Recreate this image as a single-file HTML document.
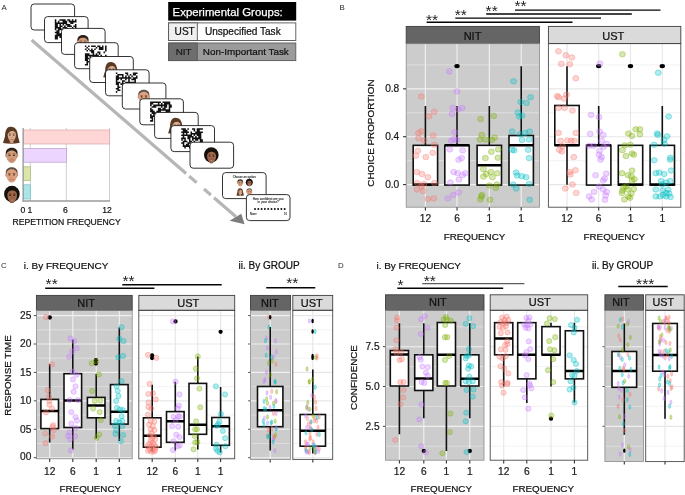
<!DOCTYPE html>
<html lang="en">
<head>
<meta charset="utf-8">
<title>Figure</title>
<style>
html,body{margin:0;padding:0;background:#fff;}
body{width:685px;height:495px;overflow:hidden;font-family:"Liberation Sans", sans-serif;}
svg{display:block;font-family:"Liberation Sans", sans-serif;}
</style>
</head>
<body>
<svg width="685" height="495" viewBox="0 0 685 495">
<rect x="0" y="0" width="685" height="495" fill="#ffffff"/>
<text x="1.4" y="9.6" font-size="7.9" text-anchor="start" fill="#2a2a2a">A</text>
<line x1="31.6" y1="40" x2="186.1" y2="173.57" stroke="#b6b6b6" stroke-width="3.2"/>
<line x1="189.2" y1="176.25" x2="196.6" y2="182.64" stroke="#b6b6b6" stroke-width="3.2"/>
<line x1="204" y1="189.04" x2="210.9" y2="195" stroke="#b6b6b6" stroke-width="3.2"/>
<line x1="214" y1="197.68" x2="236" y2="216.7" stroke="#b6b6b6" stroke-width="3.2"/>
<polygon points="244.6,224.2 229.6,220.7 241.3,213.7" fill="#7d7d7d"/>
<g>
<clipPath id="cc0"><rect x="31" y="4" width="43.6" height="26" rx="3.2"/></clipPath>
<rect x="31" y="4" width="43.6" height="26" fill="#fff" stroke="#1c1c1c" stroke-width="0.9" rx="3.2"/>
<g clip-path="url(#cc0)">
</g>
</g>
<g>
<clipPath id="cc1"><rect x="44.5" y="16.6" width="43.6" height="26" rx="3.2"/></clipPath>
<rect x="44.5" y="16.6" width="43.6" height="26" fill="#fff" stroke="#1c1c1c" stroke-width="0.9" rx="3.2"/>
<g clip-path="url(#cc1)">
<path d="M54.8 19.3h1.55v1.55h-1.55zM59.45 19.3h1.55v1.55h-1.55zM61 19.3h1.55v1.55h-1.55zM62.55 19.3h1.55v1.55h-1.55zM64.1 19.3h1.55v1.55h-1.55zM67.2 19.3h1.55v1.55h-1.55zM68.75 19.3h1.55v1.55h-1.55zM71.85 19.3h1.55v1.55h-1.55zM74.95 19.3h1.55v1.55h-1.55zM54.8 20.85h1.55v1.55h-1.55zM57.9 20.85h1.55v1.55h-1.55zM62.55 20.85h1.55v1.55h-1.55zM64.1 20.85h1.55v1.55h-1.55zM65.65 20.85h1.55v1.55h-1.55zM68.75 20.85h1.55v1.55h-1.55zM70.3 20.85h1.55v1.55h-1.55zM71.85 20.85h1.55v1.55h-1.55zM73.4 20.85h1.55v1.55h-1.55zM74.95 20.85h1.55v1.55h-1.55zM54.8 22.4h1.55v1.55h-1.55zM56.35 22.4h1.55v1.55h-1.55zM57.9 22.4h1.55v1.55h-1.55zM59.45 22.4h1.55v1.55h-1.55zM61 22.4h1.55v1.55h-1.55zM62.55 22.4h1.55v1.55h-1.55zM64.1 22.4h1.55v1.55h-1.55zM65.65 22.4h1.55v1.55h-1.55zM70.3 22.4h1.55v1.55h-1.55zM71.85 22.4h1.55v1.55h-1.55zM54.8 23.95h1.55v1.55h-1.55zM56.35 23.95h1.55v1.55h-1.55zM59.45 23.95h1.55v1.55h-1.55zM62.55 23.95h1.55v1.55h-1.55zM65.65 23.95h1.55v1.55h-1.55zM67.2 23.95h1.55v1.55h-1.55zM68.75 23.95h1.55v1.55h-1.55zM74.95 23.95h1.55v1.55h-1.55zM54.8 25.5h1.55v1.55h-1.55zM56.35 25.5h1.55v1.55h-1.55zM59.45 25.5h1.55v1.55h-1.55zM61 25.5h1.55v1.55h-1.55zM64.1 25.5h1.55v1.55h-1.55zM67.2 25.5h1.55v1.55h-1.55zM68.75 25.5h1.55v1.55h-1.55zM70.3 25.5h1.55v1.55h-1.55zM73.4 25.5h1.55v1.55h-1.55zM74.95 25.5h1.55v1.55h-1.55zM54.8 27.05h1.55v1.55h-1.55zM56.35 27.05h1.55v1.55h-1.55zM57.9 27.05h1.55v1.55h-1.55zM59.45 27.05h1.55v1.55h-1.55zM62.55 27.05h1.55v1.55h-1.55zM64.1 27.05h1.55v1.55h-1.55zM65.65 27.05h1.55v1.55h-1.55zM71.85 27.05h1.55v1.55h-1.55zM74.95 27.05h1.55v1.55h-1.55zM54.8 28.6h1.55v1.55h-1.55zM57.9 28.6h1.55v1.55h-1.55zM59.45 28.6h1.55v1.55h-1.55zM61 28.6h1.55v1.55h-1.55zM65.65 28.6h1.55v1.55h-1.55zM56.35 30.15h1.55v1.55h-1.55zM57.9 30.15h1.55v1.55h-1.55zM62.55 30.15h1.55v1.55h-1.55zM65.65 30.15h1.55v1.55h-1.55zM67.2 30.15h1.55v1.55h-1.55zM68.75 30.15h1.55v1.55h-1.55zM71.85 30.15h1.55v1.55h-1.55zM74.95 30.15h1.55v1.55h-1.55zM54.8 31.7h1.55v1.55h-1.55zM56.35 31.7h1.55v1.55h-1.55zM57.9 31.7h1.55v1.55h-1.55zM67.2 31.7h1.55v1.55h-1.55zM70.3 31.7h1.55v1.55h-1.55zM71.85 31.7h1.55v1.55h-1.55zM73.4 31.7h1.55v1.55h-1.55zM74.95 31.7h1.55v1.55h-1.55zM56.35 33.25h1.55v1.55h-1.55zM57.9 33.25h1.55v1.55h-1.55zM59.45 33.25h1.55v1.55h-1.55zM61 33.25h1.55v1.55h-1.55zM62.55 33.25h1.55v1.55h-1.55zM64.1 33.25h1.55v1.55h-1.55zM65.65 33.25h1.55v1.55h-1.55zM67.2 33.25h1.55v1.55h-1.55zM68.75 33.25h1.55v1.55h-1.55zM71.85 33.25h1.55v1.55h-1.55zM73.4 33.25h1.55v1.55h-1.55zM74.95 33.25h1.55v1.55h-1.55zM54.8 34.8h1.55v1.55h-1.55zM56.35 34.8h1.55v1.55h-1.55zM57.9 34.8h1.55v1.55h-1.55zM59.45 34.8h1.55v1.55h-1.55zM61 34.8h1.55v1.55h-1.55zM64.1 34.8h1.55v1.55h-1.55zM65.65 34.8h1.55v1.55h-1.55zM67.2 34.8h1.55v1.55h-1.55zM70.3 34.8h1.55v1.55h-1.55zM71.85 34.8h1.55v1.55h-1.55zM73.4 34.8h1.55v1.55h-1.55zM54.8 36.35h1.55v1.55h-1.55zM56.35 36.35h1.55v1.55h-1.55zM59.45 36.35h1.55v1.55h-1.55zM61 36.35h1.55v1.55h-1.55zM65.65 36.35h1.55v1.55h-1.55zM67.2 36.35h1.55v1.55h-1.55zM68.75 36.35h1.55v1.55h-1.55zM70.3 36.35h1.55v1.55h-1.55zM71.85 36.35h1.55v1.55h-1.55zM73.4 36.35h1.55v1.55h-1.55zM74.95 36.35h1.55v1.55h-1.55zM54.8 37.9h1.55v1.55h-1.55zM56.35 37.9h1.55v1.55h-1.55zM61 37.9h1.55v1.55h-1.55zM64.1 37.9h1.55v1.55h-1.55zM68.75 37.9h1.55v1.55h-1.55zM70.3 37.9h1.55v1.55h-1.55zM71.85 37.9h1.55v1.55h-1.55zM74.95 37.9h1.55v1.55h-1.55z" fill="#111"/>
</g>
</g>
<g>
<clipPath id="cc2"><rect x="61.5" y="28.4" width="43.6" height="26" rx="3.2"/></clipPath>
<rect x="61.5" y="28.4" width="43.6" height="26" fill="#fff" stroke="#1c1c1c" stroke-width="0.9" rx="3.2"/>
<g clip-path="url(#cc2)">
<path d="M77.39 39.8 C77.39 33.47 88.61 33.47 88.61 39.8 C88.61 44.72 86.08 47.88 83 47.88 C79.92 47.88 77.39 44.72 77.39 39.8Z" fill="#2b221d"/>
<ellipse cx="77.68" cy="42.37" rx="0.85" ry="1.52" fill="#c48d6b"/>
<ellipse cx="88.32" cy="42.37" rx="0.85" ry="1.52" fill="#c48d6b"/>
<path d="M78.06 42.16 C78.06 36.35 87.94 36.35 87.94 42.16 C87.94 46.68 85.72 49.59 83 49.59 C80.28 49.59 78.06 46.68 78.06 42.16Z" fill="#d39d7a"/>
<ellipse cx="80.85" cy="42.3" rx="0.97" ry="0.56" fill="#2a1c14"/>
<path d="M79.61 41.07 q1.23 -0.46 2.46 0" stroke="#3a2a20" stroke-width="0.46" fill="none"/>
<ellipse cx="85.15" cy="42.3" rx="0.97" ry="0.56" fill="#2a1c14"/>
<path d="M83.92 41.07 q1.23 -0.46 2.46 0" stroke="#3a2a20" stroke-width="0.46" fill="none"/>
<path d="M82.08 44.76 q0.92 0.72 1.85 0" stroke="#b07a59" stroke-width="0.62" fill="none"/>
<path d="M80.95 46.61 q2.05 0.51 4.1 0 q-2.05 2.67 -4.1 0z" fill="#f6f1ec" stroke="#8c4a3f" stroke-width="0.46"/>
</g>
</g>
<g>
<clipPath id="cc3"><rect x="74.6" y="42.7" width="43.6" height="26" rx="3.2"/></clipPath>
<rect x="74.6" y="42.7" width="43.6" height="26" fill="#fff" stroke="#1c1c1c" stroke-width="0.9" rx="3.2"/>
<g clip-path="url(#cc3)">
<path d="M84.9 45.4h1.55v1.55h-1.55zM88 45.4h1.55v1.55h-1.55zM91.1 45.4h1.55v1.55h-1.55zM92.65 45.4h1.55v1.55h-1.55zM94.2 45.4h1.55v1.55h-1.55zM97.3 45.4h1.55v1.55h-1.55zM98.85 45.4h1.55v1.55h-1.55zM101.95 45.4h1.55v1.55h-1.55zM105.05 45.4h1.55v1.55h-1.55zM86.45 46.95h1.55v1.55h-1.55zM95.75 46.95h1.55v1.55h-1.55zM98.85 46.95h1.55v1.55h-1.55zM100.4 46.95h1.55v1.55h-1.55zM101.95 46.95h1.55v1.55h-1.55zM105.05 46.95h1.55v1.55h-1.55zM84.9 48.5h1.55v1.55h-1.55zM88 48.5h1.55v1.55h-1.55zM91.1 48.5h1.55v1.55h-1.55zM94.2 48.5h1.55v1.55h-1.55zM98.85 48.5h1.55v1.55h-1.55zM100.4 48.5h1.55v1.55h-1.55zM101.95 48.5h1.55v1.55h-1.55zM105.05 48.5h1.55v1.55h-1.55zM86.45 50.05h1.55v1.55h-1.55zM89.55 50.05h1.55v1.55h-1.55zM91.1 50.05h1.55v1.55h-1.55zM92.65 50.05h1.55v1.55h-1.55zM105.05 50.05h1.55v1.55h-1.55zM91.1 51.6h1.55v1.55h-1.55zM92.65 51.6h1.55v1.55h-1.55zM97.3 51.6h1.55v1.55h-1.55zM98.85 51.6h1.55v1.55h-1.55zM103.5 51.6h1.55v1.55h-1.55zM84.9 53.15h1.55v1.55h-1.55zM86.45 53.15h1.55v1.55h-1.55zM88 53.15h1.55v1.55h-1.55zM92.65 53.15h1.55v1.55h-1.55zM95.75 53.15h1.55v1.55h-1.55zM98.85 53.15h1.55v1.55h-1.55zM84.9 54.7h1.55v1.55h-1.55zM86.45 54.7h1.55v1.55h-1.55zM88 54.7h1.55v1.55h-1.55zM89.55 54.7h1.55v1.55h-1.55zM91.1 54.7h1.55v1.55h-1.55zM92.65 54.7h1.55v1.55h-1.55zM94.2 54.7h1.55v1.55h-1.55zM95.75 54.7h1.55v1.55h-1.55zM97.3 54.7h1.55v1.55h-1.55zM100.4 54.7h1.55v1.55h-1.55zM105.05 54.7h1.55v1.55h-1.55zM84.9 56.25h1.55v1.55h-1.55zM86.45 56.25h1.55v1.55h-1.55zM89.55 56.25h1.55v1.55h-1.55zM92.65 56.25h1.55v1.55h-1.55zM95.75 56.25h1.55v1.55h-1.55zM97.3 56.25h1.55v1.55h-1.55zM100.4 56.25h1.55v1.55h-1.55zM101.95 56.25h1.55v1.55h-1.55zM105.05 56.25h1.55v1.55h-1.55zM84.9 57.8h1.55v1.55h-1.55zM86.45 57.8h1.55v1.55h-1.55zM88 57.8h1.55v1.55h-1.55zM91.1 57.8h1.55v1.55h-1.55zM94.2 57.8h1.55v1.55h-1.55zM95.75 57.8h1.55v1.55h-1.55zM97.3 57.8h1.55v1.55h-1.55zM98.85 57.8h1.55v1.55h-1.55zM100.4 57.8h1.55v1.55h-1.55zM101.95 57.8h1.55v1.55h-1.55zM103.5 57.8h1.55v1.55h-1.55zM84.9 59.35h1.55v1.55h-1.55zM86.45 59.35h1.55v1.55h-1.55zM91.1 59.35h1.55v1.55h-1.55zM92.65 59.35h1.55v1.55h-1.55zM95.75 59.35h1.55v1.55h-1.55zM97.3 59.35h1.55v1.55h-1.55zM98.85 59.35h1.55v1.55h-1.55zM100.4 59.35h1.55v1.55h-1.55zM101.95 59.35h1.55v1.55h-1.55zM103.5 59.35h1.55v1.55h-1.55zM105.05 59.35h1.55v1.55h-1.55zM86.45 60.9h1.55v1.55h-1.55zM88 60.9h1.55v1.55h-1.55zM91.1 60.9h1.55v1.55h-1.55zM92.65 60.9h1.55v1.55h-1.55zM95.75 60.9h1.55v1.55h-1.55zM97.3 60.9h1.55v1.55h-1.55zM98.85 60.9h1.55v1.55h-1.55zM100.4 60.9h1.55v1.55h-1.55zM101.95 60.9h1.55v1.55h-1.55zM103.5 60.9h1.55v1.55h-1.55zM105.05 60.9h1.55v1.55h-1.55zM86.45 62.45h1.55v1.55h-1.55zM89.55 62.45h1.55v1.55h-1.55zM91.1 62.45h1.55v1.55h-1.55zM92.65 62.45h1.55v1.55h-1.55zM95.75 62.45h1.55v1.55h-1.55zM97.3 62.45h1.55v1.55h-1.55zM98.85 62.45h1.55v1.55h-1.55zM101.95 62.45h1.55v1.55h-1.55zM84.9 64h1.55v1.55h-1.55zM86.45 64h1.55v1.55h-1.55zM92.65 64h1.55v1.55h-1.55zM94.2 64h1.55v1.55h-1.55zM95.75 64h1.55v1.55h-1.55zM98.85 64h1.55v1.55h-1.55zM100.4 64h1.55v1.55h-1.55zM101.95 64h1.55v1.55h-1.55zM103.5 64h1.55v1.55h-1.55zM105.05 64h1.55v1.55h-1.55z" fill="#111"/>
</g>
</g>
<g>
<clipPath id="cc4"><rect x="89.7" y="56.5" width="43.6" height="26" rx="3.2"/></clipPath>
<rect x="89.7" y="56.5" width="43.6" height="26" fill="#fff" stroke="#1c1c1c" stroke-width="0.9" rx="3.2"/>
<g clip-path="url(#cc4)">
<path d="M110.25 61.92 C115.48 61.73 117.09 66.1 117.47 70.85 L119.09 77.12 Q111.2 78.83 103.22 77.31 L105.12 70.85 C105.31 66.1 106.45 62.11 110.25 61.92Z" fill="#5b3a24"/>
<rect x="109.68" y="74.18" width="3.42" height="3.42" fill="#c99572"/>
<path d="M107.69 69.23 C107.69 64.11 115.47 64.11 115.47 69.23 C115.47 73.23 113.72 75.79 111.58 75.79 C109.44 75.79 107.69 73.23 107.69 69.23Z" fill="#dcae8d"/>
<path d="M107.5 69.43 C107.21 63.73 113.1 63.06 115.57 67.62 C113.1 65.15 109.3 64.96 107.5 69.43Z" fill="#5b3a24"/>
<ellipse cx="109.74" cy="69.68" rx="0.83" ry="0.48" fill="#2a1c14"/>
<path d="M108.7 68.63 q1.05 -0.39 2.1 0" stroke="#3a2a20" stroke-width="0.39" fill="none"/>
<ellipse cx="113.42" cy="69.68" rx="0.83" ry="0.48" fill="#2a1c14"/>
<path d="M112.37 68.63 q1.05 -0.39 2.1 0" stroke="#3a2a20" stroke-width="0.39" fill="none"/>
<path d="M110.79 71.78 q0.79 0.61 1.57 0" stroke="#bd8a69" stroke-width="0.52" fill="none"/>
<path d="M110.09 73.79 q1.49 0.79 2.97 0" stroke="#a8524d" stroke-width="0.7" fill="none"/>
</g>
</g>
<g>
<clipPath id="cc5"><rect x="105.5" y="69.8" width="43.6" height="26" rx="3.2"/></clipPath>
<rect x="105.5" y="69.8" width="43.6" height="26" fill="#fff" stroke="#1c1c1c" stroke-width="0.9" rx="3.2"/>
<g clip-path="url(#cc5)">
<path d="M115.8 72.5h1.55v1.55h-1.55zM125.1 72.5h1.55v1.55h-1.55zM126.65 72.5h1.55v1.55h-1.55zM132.85 72.5h1.55v1.55h-1.55zM134.4 72.5h1.55v1.55h-1.55zM135.95 72.5h1.55v1.55h-1.55zM117.35 74.05h1.55v1.55h-1.55zM118.9 74.05h1.55v1.55h-1.55zM120.45 74.05h1.55v1.55h-1.55zM122 74.05h1.55v1.55h-1.55zM126.65 74.05h1.55v1.55h-1.55zM129.75 74.05h1.55v1.55h-1.55zM132.85 74.05h1.55v1.55h-1.55zM134.4 74.05h1.55v1.55h-1.55zM115.8 75.6h1.55v1.55h-1.55zM117.35 75.6h1.55v1.55h-1.55zM122 75.6h1.55v1.55h-1.55zM125.1 75.6h1.55v1.55h-1.55zM128.2 75.6h1.55v1.55h-1.55zM131.3 75.6h1.55v1.55h-1.55zM135.95 75.6h1.55v1.55h-1.55zM115.8 77.15h1.55v1.55h-1.55zM117.35 77.15h1.55v1.55h-1.55zM118.9 77.15h1.55v1.55h-1.55zM120.45 77.15h1.55v1.55h-1.55zM122 77.15h1.55v1.55h-1.55zM123.55 77.15h1.55v1.55h-1.55zM125.1 77.15h1.55v1.55h-1.55zM126.65 77.15h1.55v1.55h-1.55zM128.2 77.15h1.55v1.55h-1.55zM129.75 77.15h1.55v1.55h-1.55zM132.85 77.15h1.55v1.55h-1.55zM134.4 77.15h1.55v1.55h-1.55zM135.95 77.15h1.55v1.55h-1.55zM115.8 78.7h1.55v1.55h-1.55zM117.35 78.7h1.55v1.55h-1.55zM120.45 78.7h1.55v1.55h-1.55zM125.1 78.7h1.55v1.55h-1.55zM128.2 78.7h1.55v1.55h-1.55zM131.3 78.7h1.55v1.55h-1.55zM132.85 78.7h1.55v1.55h-1.55zM134.4 78.7h1.55v1.55h-1.55zM115.8 80.25h1.55v1.55h-1.55zM122 80.25h1.55v1.55h-1.55zM123.55 80.25h1.55v1.55h-1.55zM128.2 80.25h1.55v1.55h-1.55zM134.4 80.25h1.55v1.55h-1.55zM115.8 81.8h1.55v1.55h-1.55zM117.35 81.8h1.55v1.55h-1.55zM118.9 81.8h1.55v1.55h-1.55zM122 81.8h1.55v1.55h-1.55zM125.1 81.8h1.55v1.55h-1.55zM126.65 81.8h1.55v1.55h-1.55zM128.2 81.8h1.55v1.55h-1.55zM129.75 81.8h1.55v1.55h-1.55zM131.3 81.8h1.55v1.55h-1.55zM132.85 81.8h1.55v1.55h-1.55zM134.4 81.8h1.55v1.55h-1.55zM115.8 83.35h1.55v1.55h-1.55zM117.35 83.35h1.55v1.55h-1.55zM120.45 83.35h1.55v1.55h-1.55zM122 83.35h1.55v1.55h-1.55zM123.55 83.35h1.55v1.55h-1.55zM128.2 83.35h1.55v1.55h-1.55zM129.75 83.35h1.55v1.55h-1.55zM131.3 83.35h1.55v1.55h-1.55zM134.4 83.35h1.55v1.55h-1.55zM135.95 83.35h1.55v1.55h-1.55zM117.35 84.9h1.55v1.55h-1.55zM122 84.9h1.55v1.55h-1.55zM125.1 84.9h1.55v1.55h-1.55zM126.65 84.9h1.55v1.55h-1.55zM128.2 84.9h1.55v1.55h-1.55zM131.3 84.9h1.55v1.55h-1.55zM132.85 84.9h1.55v1.55h-1.55zM117.35 86.45h1.55v1.55h-1.55zM118.9 86.45h1.55v1.55h-1.55zM122 86.45h1.55v1.55h-1.55zM123.55 86.45h1.55v1.55h-1.55zM125.1 86.45h1.55v1.55h-1.55zM126.65 86.45h1.55v1.55h-1.55zM128.2 86.45h1.55v1.55h-1.55zM132.85 86.45h1.55v1.55h-1.55zM134.4 86.45h1.55v1.55h-1.55zM135.95 86.45h1.55v1.55h-1.55zM115.8 88h1.55v1.55h-1.55zM117.35 88h1.55v1.55h-1.55zM122 88h1.55v1.55h-1.55zM128.2 88h1.55v1.55h-1.55zM131.3 88h1.55v1.55h-1.55zM134.4 88h1.55v1.55h-1.55zM135.95 88h1.55v1.55h-1.55zM117.35 89.55h1.55v1.55h-1.55zM118.9 89.55h1.55v1.55h-1.55zM123.55 89.55h1.55v1.55h-1.55zM125.1 89.55h1.55v1.55h-1.55zM126.65 89.55h1.55v1.55h-1.55zM128.2 89.55h1.55v1.55h-1.55zM129.75 89.55h1.55v1.55h-1.55zM131.3 89.55h1.55v1.55h-1.55zM115.8 91.1h1.55v1.55h-1.55zM122 91.1h1.55v1.55h-1.55zM131.3 91.1h1.55v1.55h-1.55zM134.4 91.1h1.55v1.55h-1.55z" fill="#111"/>
</g>
</g>
<g>
<clipPath id="cc6"><rect x="122.3" y="83" width="43.6" height="26" rx="3.2"/></clipPath>
<rect x="122.3" y="83" width="43.6" height="26" fill="#fff" stroke="#1c1c1c" stroke-width="0.9" rx="3.2"/>
<g clip-path="url(#cc6)">
<path d="M138.19 94.4 C138.19 88.07 149.4 88.07 149.4 94.4 C149.4 99.32 146.88 102.48 143.8 102.48 C140.72 102.48 138.19 99.32 138.19 94.4Z" fill="#5d5149"/>
<ellipse cx="138.48" cy="96.97" rx="0.85" ry="1.52" fill="#cf9270"/>
<ellipse cx="149.12" cy="96.97" rx="0.85" ry="1.52" fill="#cf9270"/>
<path d="M138.76 96.32 C138.76 90.17 148.83 90.17 148.83 96.32 C148.83 101.11 146.57 104.19 143.8 104.19 C141.03 104.19 138.76 101.11 138.76 96.32Z" fill="#dea07d"/>
<ellipse cx="141.65" cy="96.9" rx="0.97" ry="0.56" fill="#2a1c14"/>
<path d="M140.41 95.67 q1.23 -0.46 2.46 0" stroke="#3a2a20" stroke-width="0.46" fill="none"/>
<ellipse cx="145.95" cy="96.9" rx="0.97" ry="0.56" fill="#2a1c14"/>
<path d="M144.72 95.67 q1.23 -0.46 2.46 0" stroke="#3a2a20" stroke-width="0.46" fill="none"/>
<path d="M142.88 99.36 q0.92 0.72 1.85 0" stroke="#bb7e5c" stroke-width="0.62" fill="none"/>
<path d="M141.75 101.21 q2.05 0.51 4.1 0 q-2.05 2.67 -4.1 0z" fill="#f6f1ec" stroke="#94503f" stroke-width="0.46"/>
</g>
</g>
<g>
<clipPath id="cc7"><rect x="139.8" y="98.8" width="43.6" height="26" rx="3.2"/></clipPath>
<rect x="139.8" y="98.8" width="43.6" height="26" fill="#fff" stroke="#1c1c1c" stroke-width="0.9" rx="3.2"/>
<g clip-path="url(#cc7)">
<path d="M150.1 101.5h1.55v1.55h-1.55zM151.65 101.5h1.55v1.55h-1.55zM153.2 101.5h1.55v1.55h-1.55zM154.75 101.5h1.55v1.55h-1.55zM156.3 101.5h1.55v1.55h-1.55zM157.85 101.5h1.55v1.55h-1.55zM159.4 101.5h1.55v1.55h-1.55zM162.5 101.5h1.55v1.55h-1.55zM164.05 101.5h1.55v1.55h-1.55zM165.6 101.5h1.55v1.55h-1.55zM167.15 101.5h1.55v1.55h-1.55zM168.7 101.5h1.55v1.55h-1.55zM150.1 103.05h1.55v1.55h-1.55zM151.65 103.05h1.55v1.55h-1.55zM157.85 103.05h1.55v1.55h-1.55zM160.95 103.05h1.55v1.55h-1.55zM164.05 103.05h1.55v1.55h-1.55zM165.6 103.05h1.55v1.55h-1.55zM167.15 103.05h1.55v1.55h-1.55zM168.7 103.05h1.55v1.55h-1.55zM150.1 104.6h1.55v1.55h-1.55zM153.2 104.6h1.55v1.55h-1.55zM154.75 104.6h1.55v1.55h-1.55zM156.3 104.6h1.55v1.55h-1.55zM157.85 104.6h1.55v1.55h-1.55zM159.4 104.6h1.55v1.55h-1.55zM160.95 104.6h1.55v1.55h-1.55zM162.5 104.6h1.55v1.55h-1.55zM164.05 104.6h1.55v1.55h-1.55zM165.6 104.6h1.55v1.55h-1.55zM168.7 104.6h1.55v1.55h-1.55zM170.25 104.6h1.55v1.55h-1.55zM151.65 106.15h1.55v1.55h-1.55zM153.2 106.15h1.55v1.55h-1.55zM154.75 106.15h1.55v1.55h-1.55zM160.95 106.15h1.55v1.55h-1.55zM164.05 106.15h1.55v1.55h-1.55zM165.6 106.15h1.55v1.55h-1.55zM168.7 106.15h1.55v1.55h-1.55zM170.25 106.15h1.55v1.55h-1.55zM150.1 107.7h1.55v1.55h-1.55zM157.85 107.7h1.55v1.55h-1.55zM159.4 107.7h1.55v1.55h-1.55zM162.5 107.7h1.55v1.55h-1.55zM164.05 107.7h1.55v1.55h-1.55zM168.7 107.7h1.55v1.55h-1.55zM150.1 109.25h1.55v1.55h-1.55zM151.65 109.25h1.55v1.55h-1.55zM157.85 109.25h1.55v1.55h-1.55zM159.4 109.25h1.55v1.55h-1.55zM160.95 109.25h1.55v1.55h-1.55zM162.5 109.25h1.55v1.55h-1.55zM164.05 109.25h1.55v1.55h-1.55zM165.6 109.25h1.55v1.55h-1.55zM167.15 109.25h1.55v1.55h-1.55zM168.7 109.25h1.55v1.55h-1.55zM150.1 110.8h1.55v1.55h-1.55zM151.65 110.8h1.55v1.55h-1.55zM153.2 110.8h1.55v1.55h-1.55zM156.3 110.8h1.55v1.55h-1.55zM157.85 110.8h1.55v1.55h-1.55zM159.4 110.8h1.55v1.55h-1.55zM165.6 110.8h1.55v1.55h-1.55zM167.15 110.8h1.55v1.55h-1.55zM168.7 110.8h1.55v1.55h-1.55zM151.65 112.35h1.55v1.55h-1.55zM153.2 112.35h1.55v1.55h-1.55zM154.75 112.35h1.55v1.55h-1.55zM156.3 112.35h1.55v1.55h-1.55zM157.85 112.35h1.55v1.55h-1.55zM160.95 112.35h1.55v1.55h-1.55zM162.5 112.35h1.55v1.55h-1.55zM164.05 112.35h1.55v1.55h-1.55zM165.6 112.35h1.55v1.55h-1.55zM167.15 112.35h1.55v1.55h-1.55zM170.25 112.35h1.55v1.55h-1.55zM150.1 113.9h1.55v1.55h-1.55zM153.2 113.9h1.55v1.55h-1.55zM154.75 113.9h1.55v1.55h-1.55zM162.5 113.9h1.55v1.55h-1.55zM164.05 113.9h1.55v1.55h-1.55zM165.6 113.9h1.55v1.55h-1.55zM168.7 113.9h1.55v1.55h-1.55zM170.25 113.9h1.55v1.55h-1.55zM150.1 115.45h1.55v1.55h-1.55zM151.65 115.45h1.55v1.55h-1.55zM153.2 115.45h1.55v1.55h-1.55zM154.75 115.45h1.55v1.55h-1.55zM156.3 115.45h1.55v1.55h-1.55zM157.85 115.45h1.55v1.55h-1.55zM159.4 115.45h1.55v1.55h-1.55zM160.95 115.45h1.55v1.55h-1.55zM162.5 115.45h1.55v1.55h-1.55zM167.15 115.45h1.55v1.55h-1.55zM168.7 115.45h1.55v1.55h-1.55zM170.25 115.45h1.55v1.55h-1.55zM150.1 117h1.55v1.55h-1.55zM151.65 117h1.55v1.55h-1.55zM156.3 117h1.55v1.55h-1.55zM157.85 117h1.55v1.55h-1.55zM159.4 117h1.55v1.55h-1.55zM160.95 117h1.55v1.55h-1.55zM162.5 117h1.55v1.55h-1.55zM164.05 117h1.55v1.55h-1.55zM167.15 117h1.55v1.55h-1.55zM168.7 117h1.55v1.55h-1.55zM151.65 118.55h1.55v1.55h-1.55zM154.75 118.55h1.55v1.55h-1.55zM160.95 118.55h1.55v1.55h-1.55zM162.5 118.55h1.55v1.55h-1.55zM164.05 118.55h1.55v1.55h-1.55zM165.6 118.55h1.55v1.55h-1.55zM150.1 120.1h1.55v1.55h-1.55zM151.65 120.1h1.55v1.55h-1.55zM162.5 120.1h1.55v1.55h-1.55zM165.6 120.1h1.55v1.55h-1.55zM167.15 120.1h1.55v1.55h-1.55zM168.7 120.1h1.55v1.55h-1.55zM170.25 120.1h1.55v1.55h-1.55z" fill="#111"/>
</g>
</g>
<g>
<clipPath id="cc8"><rect x="154.6" y="112.4" width="43.6" height="26" rx="3.2"/></clipPath>
<rect x="154.6" y="112.4" width="43.6" height="26" fill="#fff" stroke="#1c1c1c" stroke-width="0.9" rx="3.2"/>
<g clip-path="url(#cc8)">
<path d="M175.15 117.82 C180.38 117.63 181.99 122 182.37 126.75 L183.98 133.02 Q176.1 134.73 168.12 133.21 L170.02 126.75 C170.21 122 171.35 118.01 175.15 117.82Z" fill="#5b3a24"/>
<rect x="174.58" y="130.08" width="3.42" height="3.42" fill="#c99572"/>
<path d="M172.58 125.14 C172.58 120.01 180.38 120.01 180.38 125.14 C180.38 129.12 178.62 131.69 176.48 131.69 C174.34 131.69 172.58 129.12 172.58 125.14Z" fill="#dcae8d"/>
<path d="M172.39 125.33 C172.11 119.63 178 118.96 180.47 123.52 C178 121.05 174.2 120.86 172.39 125.33Z" fill="#5b3a24"/>
<ellipse cx="174.64" cy="125.58" rx="0.83" ry="0.48" fill="#2a1c14"/>
<path d="M173.6 124.53 q1.05 -0.39 2.1 0" stroke="#3a2a20" stroke-width="0.39" fill="none"/>
<ellipse cx="178.32" cy="125.58" rx="0.83" ry="0.48" fill="#2a1c14"/>
<path d="M177.27 124.53 q1.05 -0.39 2.1 0" stroke="#3a2a20" stroke-width="0.39" fill="none"/>
<path d="M175.69 127.68 q0.79 0.61 1.57 0" stroke="#bd8a69" stroke-width="0.52" fill="none"/>
<path d="M174.99 129.69 q1.49 0.79 2.97 0" stroke="#a8524d" stroke-width="0.7" fill="none"/>
</g>
</g>
<g>
<clipPath id="cc9"><rect x="170.9" y="125.6" width="43.6" height="26" rx="3.2"/></clipPath>
<rect x="170.9" y="125.6" width="43.6" height="26" fill="#fff" stroke="#1c1c1c" stroke-width="0.9" rx="3.2"/>
<g clip-path="url(#cc9)">
<path d="M181.2 128.3h1.55v1.55h-1.55zM182.75 128.3h1.55v1.55h-1.55zM184.3 128.3h1.55v1.55h-1.55zM187.4 128.3h1.55v1.55h-1.55zM192.05 128.3h1.55v1.55h-1.55zM193.6 128.3h1.55v1.55h-1.55zM196.7 128.3h1.55v1.55h-1.55zM198.25 128.3h1.55v1.55h-1.55zM199.8 128.3h1.55v1.55h-1.55zM201.35 128.3h1.55v1.55h-1.55zM182.75 129.85h1.55v1.55h-1.55zM184.3 129.85h1.55v1.55h-1.55zM185.85 129.85h1.55v1.55h-1.55zM193.6 129.85h1.55v1.55h-1.55zM196.7 129.85h1.55v1.55h-1.55zM198.25 129.85h1.55v1.55h-1.55zM181.2 131.4h1.55v1.55h-1.55zM182.75 131.4h1.55v1.55h-1.55zM184.3 131.4h1.55v1.55h-1.55zM185.85 131.4h1.55v1.55h-1.55zM187.4 131.4h1.55v1.55h-1.55zM190.5 131.4h1.55v1.55h-1.55zM195.15 131.4h1.55v1.55h-1.55zM196.7 131.4h1.55v1.55h-1.55zM198.25 131.4h1.55v1.55h-1.55zM199.8 131.4h1.55v1.55h-1.55zM201.35 131.4h1.55v1.55h-1.55zM182.75 132.95h1.55v1.55h-1.55zM185.85 132.95h1.55v1.55h-1.55zM190.5 132.95h1.55v1.55h-1.55zM192.05 132.95h1.55v1.55h-1.55zM193.6 132.95h1.55v1.55h-1.55zM195.15 132.95h1.55v1.55h-1.55zM196.7 132.95h1.55v1.55h-1.55zM198.25 132.95h1.55v1.55h-1.55zM199.8 132.95h1.55v1.55h-1.55zM181.2 134.5h1.55v1.55h-1.55zM182.75 134.5h1.55v1.55h-1.55zM184.3 134.5h1.55v1.55h-1.55zM185.85 134.5h1.55v1.55h-1.55zM187.4 134.5h1.55v1.55h-1.55zM188.95 134.5h1.55v1.55h-1.55zM190.5 134.5h1.55v1.55h-1.55zM193.6 134.5h1.55v1.55h-1.55zM196.7 134.5h1.55v1.55h-1.55zM198.25 134.5h1.55v1.55h-1.55zM199.8 134.5h1.55v1.55h-1.55zM182.75 136.05h1.55v1.55h-1.55zM187.4 136.05h1.55v1.55h-1.55zM188.95 136.05h1.55v1.55h-1.55zM190.5 136.05h1.55v1.55h-1.55zM192.05 136.05h1.55v1.55h-1.55zM195.15 136.05h1.55v1.55h-1.55zM198.25 136.05h1.55v1.55h-1.55zM199.8 136.05h1.55v1.55h-1.55zM181.2 137.6h1.55v1.55h-1.55zM182.75 137.6h1.55v1.55h-1.55zM184.3 137.6h1.55v1.55h-1.55zM187.4 137.6h1.55v1.55h-1.55zM188.95 137.6h1.55v1.55h-1.55zM192.05 137.6h1.55v1.55h-1.55zM193.6 137.6h1.55v1.55h-1.55zM195.15 137.6h1.55v1.55h-1.55zM196.7 137.6h1.55v1.55h-1.55zM198.25 137.6h1.55v1.55h-1.55zM199.8 137.6h1.55v1.55h-1.55zM181.2 139.15h1.55v1.55h-1.55zM184.3 139.15h1.55v1.55h-1.55zM188.95 139.15h1.55v1.55h-1.55zM192.05 139.15h1.55v1.55h-1.55zM195.15 139.15h1.55v1.55h-1.55zM196.7 139.15h1.55v1.55h-1.55zM199.8 139.15h1.55v1.55h-1.55zM201.35 139.15h1.55v1.55h-1.55zM182.75 140.7h1.55v1.55h-1.55zM184.3 140.7h1.55v1.55h-1.55zM185.85 140.7h1.55v1.55h-1.55zM188.95 140.7h1.55v1.55h-1.55zM190.5 140.7h1.55v1.55h-1.55zM193.6 140.7h1.55v1.55h-1.55zM199.8 140.7h1.55v1.55h-1.55zM201.35 140.7h1.55v1.55h-1.55zM181.2 142.25h1.55v1.55h-1.55zM182.75 142.25h1.55v1.55h-1.55zM187.4 142.25h1.55v1.55h-1.55zM188.95 142.25h1.55v1.55h-1.55zM192.05 142.25h1.55v1.55h-1.55zM193.6 142.25h1.55v1.55h-1.55zM195.15 142.25h1.55v1.55h-1.55zM198.25 142.25h1.55v1.55h-1.55zM199.8 142.25h1.55v1.55h-1.55zM201.35 142.25h1.55v1.55h-1.55zM182.75 143.8h1.55v1.55h-1.55zM185.85 143.8h1.55v1.55h-1.55zM187.4 143.8h1.55v1.55h-1.55zM192.05 143.8h1.55v1.55h-1.55zM193.6 143.8h1.55v1.55h-1.55zM195.15 143.8h1.55v1.55h-1.55zM196.7 143.8h1.55v1.55h-1.55zM198.25 143.8h1.55v1.55h-1.55zM199.8 143.8h1.55v1.55h-1.55zM201.35 143.8h1.55v1.55h-1.55zM182.75 145.35h1.55v1.55h-1.55zM184.3 145.35h1.55v1.55h-1.55zM185.85 145.35h1.55v1.55h-1.55zM187.4 145.35h1.55v1.55h-1.55zM188.95 145.35h1.55v1.55h-1.55zM190.5 145.35h1.55v1.55h-1.55zM192.05 145.35h1.55v1.55h-1.55zM193.6 145.35h1.55v1.55h-1.55zM199.8 145.35h1.55v1.55h-1.55zM184.3 146.9h1.55v1.55h-1.55zM188.95 146.9h1.55v1.55h-1.55zM190.5 146.9h1.55v1.55h-1.55zM193.6 146.9h1.55v1.55h-1.55zM198.25 146.9h1.55v1.55h-1.55zM199.8 146.9h1.55v1.55h-1.55zM201.35 146.9h1.55v1.55h-1.55z" fill="#111"/>
</g>
</g>
<g>
<clipPath id="cc10"><rect x="190" y="142.2" width="43.6" height="26" rx="3.2"/></clipPath>
<rect x="190" y="142.2" width="43.6" height="26" fill="#fff" stroke="#1c1c1c" stroke-width="0.9" rx="3.2"/>
<g clip-path="url(#cc10)">
<ellipse cx="211.3" cy="154.93" rx="7.31" ry="7.6" fill="#16100d"/>
<rect x="209.59" y="160.25" width="3.42" height="3.04" fill="#8b5538"/>
<path d="M207.12 155.73 C207.12 150.26 216.05 150.26 216.05 155.73 C216.05 159.98 214.04 162.72 211.59 162.72 C209.13 162.72 207.12 159.98 207.12 155.73Z" fill="#a0664a"/>
<ellipse cx="209.63" cy="155.99" rx="0.88" ry="0.51" fill="#160d09"/>
<path d="M208.51 154.87 q1.12 -0.42 2.23 0" stroke="#1c120d" stroke-width="0.42" fill="none"/>
<ellipse cx="213.54" cy="155.99" rx="0.88" ry="0.51" fill="#160d09"/>
<path d="M212.42 154.87 q1.12 -0.42 2.23 0" stroke="#1c120d" stroke-width="0.42" fill="none"/>
<path d="M210.75 158.23 q0.84 0.65 1.68 0" stroke="#7d4a33" stroke-width="0.56" fill="none"/>
<path d="M209.72 159.9 q1.86 0.47 3.72 0 q-1.86 2.42 -3.72 0z" fill="#f6f1ec" stroke="#6d2f2a" stroke-width="0.42"/>
</g>
</g>
<g>
<clipPath id="cc11"><rect x="222.5" y="172.6" width="43.6" height="26" rx="3.2"/></clipPath>
<rect x="222.5" y="172.6" width="43.6" height="26" fill="#fff" stroke="#1c1c1c" stroke-width="0.9" rx="3.2"/>
<g clip-path="url(#cc11)">
<text x="244.3" y="177.5" font-size="2.75" text-anchor="middle" fill="#111" font-weight="bold">Choose an option</text>
<path d="M237.43 181.61 C237.43 178.48 242.97 178.48 242.97 181.61 C242.97 184.04 241.73 185.61 240.2 185.61 C238.67 185.61 237.43 184.04 237.43 181.61Z" fill="#2b221d"/>
<ellipse cx="237.57" cy="182.88" rx="0.42" ry="0.75" fill="#c48d6b"/>
<ellipse cx="242.83" cy="182.88" rx="0.42" ry="0.75" fill="#c48d6b"/>
<path d="M237.76 182.78 C237.76 179.9 242.64 179.9 242.64 182.78 C242.64 185.02 241.54 186.45 240.2 186.45 C238.86 186.45 237.76 185.02 237.76 182.78Z" fill="#d39d7a"/>
<ellipse cx="239.13" cy="182.85" rx="0.48" ry="0.28" fill="#2a1c14"/>
<path d="M238.52 182.24 q0.61 -0.23 1.22 0" stroke="#3a2a20" stroke-width="0.23" fill="none"/>
<ellipse cx="241.27" cy="182.85" rx="0.48" ry="0.28" fill="#2a1c14"/>
<path d="M240.66 182.24 q0.61 -0.23 1.22 0" stroke="#3a2a20" stroke-width="0.23" fill="none"/>
<path d="M239.74 184.07 q0.46 0.36 0.91 0" stroke="#b07a59" stroke-width="0.3" fill="none"/>
<path d="M239.18 184.98 q1.02 0.25 2.03 0 q-1.02 1.32 -2.03 0z" fill="#f6f1ec" stroke="#8c4a3f" stroke-width="0.23"/>
<ellipse cx="249.3" cy="182.33" rx="3.47" ry="3.6" fill="#16100d"/>
<rect x="248.49" y="184.85" width="1.62" height="1.44" fill="#8b5538"/>
<path d="M247.32 182.71 C247.32 180.12 251.55 180.12 251.55 182.71 C251.55 184.72 250.6 186.02 249.44 186.02 C248.27 186.02 247.32 184.72 247.32 182.71Z" fill="#a0664a"/>
<ellipse cx="248.51" cy="182.83" rx="0.42" ry="0.24" fill="#160d09"/>
<path d="M247.98 182.3 q0.53 -0.2 1.06 0" stroke="#1c120d" stroke-width="0.2" fill="none"/>
<ellipse cx="250.36" cy="182.83" rx="0.42" ry="0.24" fill="#160d09"/>
<path d="M249.83 182.3 q0.53 -0.2 1.06 0" stroke="#1c120d" stroke-width="0.2" fill="none"/>
<path d="M249.04 183.89 q0.4 0.31 0.79 0" stroke="#7d4a33" stroke-width="0.26" fill="none"/>
<path d="M248.55 184.69 q0.88 0.22 1.76 0 q-0.88 1.15 -1.76 0z" fill="#f6f1ec" stroke="#6d2f2a" stroke-width="0.2"/>
<path d="M239.75 188.22 C242.23 188.13 242.99 190.2 243.17 192.45 L243.94 195.42 Q240.2 196.23 236.42 195.51 L237.32 192.45 C237.41 190.2 237.95 188.31 239.75 188.22Z" fill="#5b3a24"/>
<rect x="239.48" y="194.03" width="1.62" height="1.62" fill="#c99572"/>
<path d="M238.54 191.69 C238.54 189.25 242.23 189.25 242.23 191.69 C242.23 193.58 241.39 194.79 240.38 194.79 C239.37 194.79 238.54 193.58 238.54 191.69Z" fill="#dcae8d"/>
<path d="M238.45 191.78 C238.31 189.07 241.1 188.76 242.27 190.92 C241.1 189.75 239.3 189.66 238.45 191.78Z" fill="#5b3a24"/>
<ellipse cx="239.51" cy="191.9" rx="0.39" ry="0.23" fill="#2a1c14"/>
<path d="M239.01 191.4 q0.5 -0.19 0.99 0" stroke="#3a2a20" stroke-width="0.19" fill="none"/>
<ellipse cx="241.25" cy="191.9" rx="0.39" ry="0.23" fill="#2a1c14"/>
<path d="M240.75 191.4 q0.5 -0.19 0.99 0" stroke="#3a2a20" stroke-width="0.19" fill="none"/>
<path d="M240.01 192.89 q0.37 0.29 0.75 0" stroke="#bd8a69" stroke-width="0.25" fill="none"/>
<path d="M239.68 193.84 q0.7 0.37 1.41 0" stroke="#a8524d" stroke-width="0.33" fill="none"/>
<path d="M246.53 190.61 C246.53 187.48 252.07 187.48 252.07 190.61 C252.07 193.04 250.83 194.61 249.3 194.61 C247.77 194.61 246.53 193.04 246.53 190.61Z" fill="#5d5149"/>
<ellipse cx="246.67" cy="191.88" rx="0.42" ry="0.75" fill="#cf9270"/>
<ellipse cx="251.93" cy="191.88" rx="0.42" ry="0.75" fill="#cf9270"/>
<path d="M246.81 191.56 C246.81 188.52 251.79 188.52 251.79 191.56 C251.79 193.93 250.67 195.45 249.3 195.45 C247.93 195.45 246.81 193.93 246.81 191.56Z" fill="#dea07d"/>
<ellipse cx="248.23" cy="191.85" rx="0.48" ry="0.28" fill="#2a1c14"/>
<path d="M247.62 191.24 q0.61 -0.23 1.22 0" stroke="#3a2a20" stroke-width="0.23" fill="none"/>
<ellipse cx="250.37" cy="191.85" rx="0.48" ry="0.28" fill="#2a1c14"/>
<path d="M249.76 191.24 q0.61 -0.23 1.22 0" stroke="#3a2a20" stroke-width="0.23" fill="none"/>
<path d="M248.84 193.07 q0.46 0.36 0.91 0" stroke="#bb7e5c" stroke-width="0.3" fill="none"/>
<path d="M248.28 193.98 q1.02 0.25 2.03 0 q-1.02 1.32 -2.03 0z" fill="#f6f1ec" stroke="#94503f" stroke-width="0.23"/>
</g>
</g>
<g>
<clipPath id="cc12"><rect x="246.4" y="194.6" width="43.6" height="26" rx="3.2"/></clipPath>
<rect x="246.4" y="194.6" width="43.6" height="26" fill="#fff" stroke="#1c1c1c" stroke-width="0.9" rx="3.2"/>
<g clip-path="url(#cc12)">
<text x="268.2" y="199.8" font-size="2.88" text-anchor="middle" fill="#111" font-weight="bold">How confident are you</text>
<text x="268.2" y="203.2" font-size="2.88" text-anchor="middle" fill="#111" font-weight="bold">in your choice?</text>
<circle cx="255" cy="209" r="1.0" fill="#111"/>
<circle cx="258.3" cy="209" r="1.0" fill="#111"/>
<circle cx="261.6" cy="209" r="1.0" fill="#111"/>
<circle cx="264.9" cy="209" r="1.0" fill="#111"/>
<circle cx="268.2" cy="209" r="1.0" fill="#111"/>
<circle cx="271.5" cy="209" r="1.0" fill="#111"/>
<circle cx="274.8" cy="209" r="1.0" fill="#111"/>
<circle cx="278.1" cy="209" r="1.0" fill="#111"/>
<circle cx="281.4" cy="209" r="1.0" fill="#111"/>
<circle cx="284.7" cy="209" r="1.0" fill="#111"/>
<text x="250" y="215" font-size="2.7" text-anchor="start" fill="#111" font-weight="bold">None</text>
<text x="287" y="215" font-size="2.7" text-anchor="end" fill="#111" font-weight="bold">10</text>
</g>
</g>
<rect x="168.2" y="2" width="128" height="18.6" fill="#000" stroke="none" stroke-width="1"/>
<text x="172.6" y="15.6" font-size="11.4" text-anchor="start" fill="#fff" stroke="#fff" stroke-width="0.25">Experimental Groups:</text>
<rect x="168.6" y="22.9" width="127.2" height="17.6" fill="#fff" stroke="#555" stroke-width="0.9"/>
<rect x="168.6" y="22.9" width="28.7" height="17.6" fill="#f0f0f0" stroke="#555" stroke-width="0.9"/>
<text x="184.7" y="35" font-size="10.1" text-anchor="middle" fill="#111" stroke="#111" stroke-width="0.22">UST</text>
<text x="204.9" y="35" font-size="10.05" text-anchor="start" fill="#111" stroke="#111" stroke-width="0.22">Unspecified Task</text>
<rect x="168.6" y="43" width="127.2" height="17.6" fill="#9b9b9b" stroke="#5a5a5a" stroke-width="0.9"/>
<rect x="168.6" y="43" width="28.7" height="17.6" fill="#6e6e6e" stroke="#5a5a5a" stroke-width="0.9"/>
<text x="183.6" y="55.4" font-size="9.8" text-anchor="middle" fill="#1a1a1a" stroke="#1a1a1a" stroke-width="0.22">NIT</text>
<text x="202.8" y="55.4" font-size="9.9" text-anchor="start" fill="#111" stroke="#111" stroke-width="0.22">Non-Important Task</text>
<line x1="30.3" y1="128" x2="30.3" y2="201" stroke="#c4c4c4" stroke-width="0.8"/>
<line x1="66.3" y1="128" x2="66.3" y2="201" stroke="#c4c4c4" stroke-width="0.8"/>
<line x1="109.5" y1="128" x2="109.5" y2="201" stroke="#c4c4c4" stroke-width="0.8"/>
<rect x="23.5" y="130" width="86.2" height="14" fill="#ffd6d6" stroke="#d9a5a5" stroke-width="0.7"/>
<rect x="23.5" y="148.4" width="43" height="13.8" fill="#ecd6ff" stroke="#b79fd0" stroke-width="0.7"/>
<rect x="23.5" y="166.8" width="7" height="13.7" fill="#dbe6a8" stroke="#a9b77c" stroke-width="0.7"/>
<rect x="23.5" y="184.8" width="7" height="14.2" fill="#a8e6ea" stroke="#7fb9bd" stroke-width="0.7"/>
<line x1="23.1" y1="128" x2="23.1" y2="201.4" stroke="#9a9a9a" stroke-width="1.3"/>
<line x1="22.5" y1="201" x2="110" y2="201" stroke="#9a9a9a" stroke-width="1.3"/>
<text x="23" y="213.2" font-size="8.6" text-anchor="middle" fill="#111" stroke="#111" stroke-width="0.19">0</text>
<text x="30" y="213.2" font-size="8.6" text-anchor="middle" fill="#111" stroke="#111" stroke-width="0.19">1</text>
<text x="65.4" y="213.2" font-size="8.6" text-anchor="middle" fill="#111" stroke="#111" stroke-width="0.19">6</text>
<text x="107" y="213.2" font-size="8.6" text-anchor="middle" fill="#111" stroke="#111" stroke-width="0.19">12</text>
<text x="12.5" y="225" font-size="8.64" text-anchor="start" fill="#111" stroke="#111" stroke-width="0.19">REPETITION FREQUENCY</text>
<path d="M10.4 126.8 C15.9 126.6 17.6 131.2 18 136.2 L19.7 142.8 Q11.4 144.6 3 143 L5 136.2 C5.2 131.2 6.4 127 10.4 126.8Z" fill="#5b3a24"/>
<rect x="9.8" y="139.7" width="3.6" height="3.6" fill="#c99572"/>
<path d="M7.7 134.5 C7.7 129.1 15.9 129.1 15.9 134.5 C15.9 138.7 14.05 141.4 11.8 141.4 C9.55 141.4 7.7 138.7 7.7 134.5Z" fill="#dcae8d"/>
<path d="M7.5 134.7 C7.2 128.7 13.4 128 16 132.8 C13.4 130.2 9.4 130 7.5 134.7Z" fill="#5b3a24"/>
<ellipse cx="9.87" cy="134.97" rx="0.87" ry="0.51" fill="#2a1c14"/>
<path d="M8.76 133.87 q1.1 -0.41 2.21 0" stroke="#3a2a20" stroke-width="0.41" fill="none"/>
<ellipse cx="13.73" cy="134.97" rx="0.87" ry="0.51" fill="#2a1c14"/>
<path d="M12.63 133.87 q1.1 -0.41 2.21 0" stroke="#3a2a20" stroke-width="0.41" fill="none"/>
<path d="M10.97 137.18 q0.83 0.64 1.66 0" stroke="#bd8a69" stroke-width="0.55" fill="none"/>
<path d="M10.24 139.3 q1.56 0.83 3.13 0" stroke="#a8524d" stroke-width="0.74" fill="none"/>
<path d="M5.8 152.69 C5.8 146.03 17.6 146.03 17.6 152.69 C17.6 157.87 14.95 161.2 11.7 161.2 C8.45 161.2 5.8 157.87 5.8 152.69Z" fill="#2b221d"/>
<ellipse cx="6.1" cy="155.4" rx="0.9" ry="1.6" fill="#c48d6b"/>
<ellipse cx="17.3" cy="155.4" rx="0.9" ry="1.6" fill="#c48d6b"/>
<path d="M6.5 155.18 C6.5 149.06 16.9 149.06 16.9 155.18 C16.9 159.94 14.56 163 11.7 163 C8.84 163 6.5 159.94 6.5 155.18Z" fill="#d39d7a"/>
<ellipse cx="9.43" cy="155.33" rx="1.03" ry="0.59" fill="#2a1c14"/>
<path d="M8.14 154.03 q1.3 -0.49 2.59 0" stroke="#3a2a20" stroke-width="0.49" fill="none"/>
<ellipse cx="13.97" cy="155.33" rx="1.03" ry="0.59" fill="#2a1c14"/>
<path d="M12.67 154.03 q1.3 -0.49 2.59 0" stroke="#3a2a20" stroke-width="0.49" fill="none"/>
<path d="M10.73 157.92 q0.97 0.76 1.94 0" stroke="#b07a59" stroke-width="0.65" fill="none"/>
<path d="M9.54 159.86 q2.16 0.54 4.32 0 q-2.16 2.81 -4.32 0z" fill="#f6f1ec" stroke="#8c4a3f" stroke-width="0.49"/>
<path d="M5.8 172.19 C5.8 165.53 17.6 165.53 17.6 172.19 C17.6 177.37 14.95 180.7 11.7 180.7 C8.45 180.7 5.8 177.37 5.8 172.19Z" fill="#5d5149"/>
<ellipse cx="6.1" cy="174.9" rx="0.9" ry="1.6" fill="#cf9270"/>
<ellipse cx="17.3" cy="174.9" rx="0.9" ry="1.6" fill="#cf9270"/>
<path d="M6.4 174.22 C6.4 167.74 17 167.74 17 174.22 C17 179.26 14.61 182.5 11.7 182.5 C8.79 182.5 6.4 179.26 6.4 174.22Z" fill="#dea07d"/>
<ellipse cx="9.43" cy="174.83" rx="1.03" ry="0.59" fill="#2a1c14"/>
<path d="M8.14 173.53 q1.3 -0.49 2.59 0" stroke="#3a2a20" stroke-width="0.49" fill="none"/>
<ellipse cx="13.97" cy="174.83" rx="1.03" ry="0.59" fill="#2a1c14"/>
<path d="M12.67 173.53 q1.3 -0.49 2.59 0" stroke="#3a2a20" stroke-width="0.49" fill="none"/>
<path d="M10.73 177.42 q0.97 0.76 1.94 0" stroke="#bb7e5c" stroke-width="0.65" fill="none"/>
<path d="M9.54 179.36 q2.16 0.54 4.32 0 q-2.16 2.81 -4.32 0z" fill="#f6f1ec" stroke="#94503f" stroke-width="0.49"/>
<ellipse cx="11.9" cy="193.99" rx="7.85" ry="8.16" fill="#16100d"/>
<rect x="10.06" y="199.7" width="3.67" height="3.26" fill="#8b5538"/>
<path d="M7.41 194.84 C7.41 188.97 17 188.97 17 194.84 C17 199.41 14.84 202.35 12.21 202.35 C9.57 202.35 7.41 199.41 7.41 194.84Z" fill="#a0664a"/>
<ellipse cx="10.11" cy="195.13" rx="0.95" ry="0.55" fill="#160d09"/>
<path d="M8.91 193.93 q1.2 -0.45 2.4 0" stroke="#1c120d" stroke-width="0.45" fill="none"/>
<ellipse cx="14.31" cy="195.13" rx="0.95" ry="0.55" fill="#160d09"/>
<path d="M13.11 193.93 q1.2 -0.45 2.4 0" stroke="#1c120d" stroke-width="0.45" fill="none"/>
<path d="M11.31 197.53 q0.9 0.7 1.8 0" stroke="#7d4a33" stroke-width="0.6" fill="none"/>
<path d="M10.21 199.33 q2 0.5 4 0 q-2 2.6 -4 0z" fill="#f6f1ec" stroke="#6d2f2a" stroke-width="0.45"/>
<text x="339.6" y="9.6" font-size="7.9" text-anchor="start" fill="#2a2a2a">B</text>
<line x1="426.6" y1="22.3" x2="572.5" y2="22.3" stroke="#050505" stroke-width="1.45"/>
<text x="426" y="24.7" font-size="15.5" fill="#1a1a1a">**</text>
<line x1="455.3" y1="18.1" x2="601" y2="18.1" stroke="#050505" stroke-width="1.45"/>
<text x="454.7" y="20.3" font-size="15.5" fill="#1a1a1a">**</text>
<line x1="486.2" y1="14" x2="631.8" y2="14" stroke="#050505" stroke-width="1.45"/>
<text x="485.6" y="16.4" font-size="15.5" fill="#1a1a1a">**</text>
<line x1="515" y1="10.1" x2="660.5" y2="10.1" stroke="#050505" stroke-width="1.45"/>
<text x="514.4" y="11.2" font-size="15.5" fill="#1a1a1a">**</text>
<rect x="406.2" y="43.6" width="133.2" height="163.6" fill="#cccccc" stroke="none" stroke-width="1"/>
<line x1="406.2" y1="160.66" x2="539.4" y2="160.66" stroke="#e0e0e0" stroke-width="0.9"/>
<line x1="406.2" y1="112.78" x2="539.4" y2="112.78" stroke="#e0e0e0" stroke-width="0.9"/>
<line x1="406.2" y1="64.9" x2="539.4" y2="64.9" stroke="#e0e0e0" stroke-width="0.9"/>
<line x1="406.2" y1="184.6" x2="539.4" y2="184.6" stroke="#f0f0f0" stroke-width="1.15"/>
<line x1="406.2" y1="136.72" x2="539.4" y2="136.72" stroke="#f0f0f0" stroke-width="1.15"/>
<line x1="406.2" y1="88.84" x2="539.4" y2="88.84" stroke="#f0f0f0" stroke-width="1.15"/>
<line x1="425.4" y1="43.6" x2="425.4" y2="207.2" stroke="#f0f0f0" stroke-width="1.15"/>
<line x1="457" y1="43.6" x2="457" y2="207.2" stroke="#f0f0f0" stroke-width="1.15"/>
<line x1="489.3" y1="43.6" x2="489.3" y2="207.2" stroke="#f0f0f0" stroke-width="1.15"/>
<line x1="521.2" y1="43.6" x2="521.2" y2="207.2" stroke="#f0f0f0" stroke-width="1.15"/>
<rect x="406.2" y="26.4" width="133.2" height="17.2" fill="#656565" stroke="#3d3d3d" stroke-width="0.9"/>
<text x="472.5" y="39.5" font-size="11" text-anchor="middle" fill="#111" stroke="#111" stroke-width="0.24">NIT</text>
<clipPath id="clipBN"><rect x="406.2" y="43.6" width="133.2" height="163.6"/></clipPath>
<g clip-path="url(#clipBN)">
<line x1="425.4" y1="106.08" x2="425.4" y2="145.34" stroke="#111" stroke-width="1.6"/>
<rect x="413.2" y="145.34" width="24.4" height="39.74" fill="#ffffff" stroke="#111" stroke-width="1.6"/>
<line x1="413.2" y1="184.6" x2="437.6" y2="184.6" stroke="#000" stroke-width="2.5"/>
<line x1="457" y1="106.08" x2="457" y2="145.34" stroke="#111" stroke-width="1.6"/>
<rect x="444.8" y="145.34" width="24.4" height="39.74" fill="#ffffff" stroke="#111" stroke-width="1.6"/>
<line x1="444.8" y1="145.34" x2="469.2" y2="145.34" stroke="#000" stroke-width="2.5"/>
<ellipse cx="457" cy="66.1" rx="2.7" ry="2.2" fill="#000"/>
<line x1="489.3" y1="106.08" x2="489.3" y2="145.34" stroke="#111" stroke-width="1.6"/>
<rect x="477.1" y="145.34" width="24.4" height="39.74" fill="#ffffff" stroke="#111" stroke-width="1.6"/>
<line x1="477.1" y1="165.33" x2="501.5" y2="165.33" stroke="#000" stroke-width="2.5"/>
<line x1="521.2" y1="66.34" x2="521.2" y2="135.52" stroke="#111" stroke-width="1.6"/>
<rect x="509" y="135.52" width="24.4" height="49.56" fill="#ffffff" stroke="#111" stroke-width="1.6"/>
<line x1="509" y1="145.34" x2="533.4" y2="145.34" stroke="#000" stroke-width="2.5"/>
<g fill="#F8766D" fill-opacity="0.31" stroke="#F8766D" stroke-opacity="0.52" stroke-width="0.7">
<ellipse cx="421.3" cy="96.6" rx="3" ry="2.75"/>
<ellipse cx="434.2" cy="111.7" rx="3" ry="2.75"/>
<ellipse cx="429" cy="116.3" rx="3" ry="2.75"/>
<ellipse cx="421.3" cy="131.3" rx="3" ry="2.75"/>
<ellipse cx="418.5" cy="132.9" rx="3" ry="2.75"/>
<ellipse cx="433.2" cy="135.5" rx="3" ry="2.75"/>
<ellipse cx="418.5" cy="138.3" rx="3" ry="2.75"/>
<ellipse cx="423.9" cy="140.4" rx="3" ry="2.75"/>
<ellipse cx="434.4" cy="144.8" rx="3" ry="2.75"/>
<ellipse cx="417.9" cy="150.8" rx="3" ry="2.75"/>
<ellipse cx="432.8" cy="152.8" rx="3" ry="2.75"/>
<ellipse cx="415.9" cy="155.7" rx="3" ry="2.75"/>
<ellipse cx="425.8" cy="157.1" rx="3" ry="2.75"/>
<ellipse cx="416.9" cy="172" rx="3" ry="2.75"/>
<ellipse cx="421.9" cy="174" rx="3" ry="2.75"/>
<ellipse cx="427.8" cy="177.2" rx="3" ry="2.75"/>
<ellipse cx="417.3" cy="183.1" rx="3" ry="2.75"/>
<ellipse cx="423.9" cy="183.9" rx="3" ry="2.75"/>
<ellipse cx="434.4" cy="183.1" rx="3" ry="2.75"/>
<ellipse cx="421.3" cy="186.5" rx="3" ry="2.75"/>
<ellipse cx="416.9" cy="189.5" rx="3" ry="2.75"/>
<ellipse cx="423.3" cy="191.1" rx="3" ry="2.75"/>
<ellipse cx="427.8" cy="199" rx="3" ry="2.75"/>
<ellipse cx="433.8" cy="198.4" rx="3" ry="2.75"/>
</g>
<g fill="#C77CFF" fill-opacity="0.31" stroke="#C77CFF" stroke-opacity="0.52" stroke-width="0.7">
<ellipse cx="449.3" cy="71.4" rx="3" ry="2.75"/>
<ellipse cx="457" cy="91.4" rx="3" ry="2.75"/>
<ellipse cx="452.6" cy="107.9" rx="3" ry="2.75"/>
<ellipse cx="462.2" cy="107.9" rx="3" ry="2.75"/>
<ellipse cx="458.2" cy="109.5" rx="3" ry="2.75"/>
<ellipse cx="452" cy="113.9" rx="3" ry="2.75"/>
<ellipse cx="454.6" cy="132.3" rx="3" ry="2.75"/>
<ellipse cx="453.6" cy="138.9" rx="3" ry="2.75"/>
<ellipse cx="457" cy="139.9" rx="3" ry="2.75"/>
<ellipse cx="451.1" cy="140.8" rx="3" ry="2.75"/>
<ellipse cx="449.7" cy="149.4" rx="3" ry="2.75"/>
<ellipse cx="462.6" cy="150.4" rx="3" ry="2.75"/>
<ellipse cx="458.6" cy="159.7" rx="3" ry="2.75"/>
<ellipse cx="461.6" cy="158.1" rx="3" ry="2.75"/>
<ellipse cx="453.6" cy="172" rx="3" ry="2.75"/>
<ellipse cx="457.6" cy="173.2" rx="3" ry="2.75"/>
<ellipse cx="465.2" cy="173.2" rx="3" ry="2.75"/>
<ellipse cx="462.6" cy="175.2" rx="3" ry="2.75"/>
<ellipse cx="459" cy="179.6" rx="3" ry="2.75"/>
<ellipse cx="450.3" cy="182.5" rx="3" ry="2.75"/>
<ellipse cx="458.6" cy="192.5" rx="3" ry="2.75"/>
<ellipse cx="453.2" cy="195" rx="3" ry="2.75"/>
<ellipse cx="447.7" cy="198.4" rx="3" ry="2.75"/>
</g>
<g fill="#7CAE00" fill-opacity="0.31" stroke="#7CAE00" stroke-opacity="0.52" stroke-width="0.7">
<ellipse cx="493.7" cy="115.9" rx="3" ry="2.75"/>
<ellipse cx="480.6" cy="119" rx="3" ry="2.75"/>
<ellipse cx="481.8" cy="134.9" rx="3" ry="2.75"/>
<ellipse cx="494.7" cy="137.5" rx="3" ry="2.75"/>
<ellipse cx="480" cy="139.5" rx="3" ry="2.75"/>
<ellipse cx="485.4" cy="139.5" rx="3" ry="2.75"/>
<ellipse cx="491.8" cy="139.9" rx="3" ry="2.75"/>
<ellipse cx="498.3" cy="149.4" rx="3" ry="2.75"/>
<ellipse cx="491.4" cy="151.8" rx="3" ry="2.75"/>
<ellipse cx="485.4" cy="158.1" rx="3" ry="2.75"/>
<ellipse cx="497.9" cy="157.7" rx="3" ry="2.75"/>
<ellipse cx="483.4" cy="169.2" rx="3" ry="2.75"/>
<ellipse cx="490.8" cy="172" rx="3" ry="2.75"/>
<ellipse cx="497.3" cy="173.2" rx="3" ry="2.75"/>
<ellipse cx="486.4" cy="174" rx="3" ry="2.75"/>
<ellipse cx="483.4" cy="176.6" rx="3" ry="2.75"/>
<ellipse cx="492.4" cy="177.2" rx="3" ry="2.75"/>
<ellipse cx="496.9" cy="184.5" rx="3" ry="2.75"/>
<ellipse cx="489.4" cy="185.5" rx="3" ry="2.75"/>
<ellipse cx="495.9" cy="187.9" rx="3" ry="2.75"/>
<ellipse cx="482" cy="195" rx="3" ry="2.75"/>
<ellipse cx="481.4" cy="196.6" rx="3" ry="2.75"/>
<ellipse cx="480.4" cy="199.4" rx="3" ry="2.75"/>
<ellipse cx="490" cy="199.8" rx="3" ry="2.75"/>
</g>
<g fill="#00BFC4" fill-opacity="0.31" stroke="#00BFC4" stroke-opacity="0.52" stroke-width="0.7">
<ellipse cx="513.6" cy="81.3" rx="3" ry="2.75"/>
<ellipse cx="530.5" cy="97.2" rx="3" ry="2.75"/>
<ellipse cx="520.7" cy="102" rx="3" ry="2.75"/>
<ellipse cx="526.5" cy="103" rx="3" ry="2.75"/>
<ellipse cx="517.8" cy="112.5" rx="3" ry="2.75"/>
<ellipse cx="522.1" cy="115.5" rx="3" ry="2.75"/>
<ellipse cx="519.2" cy="116.5" rx="3" ry="2.75"/>
<ellipse cx="512.2" cy="131.5" rx="3" ry="2.75"/>
<ellipse cx="529.7" cy="131.5" rx="3" ry="2.75"/>
<ellipse cx="525.1" cy="132.9" rx="3" ry="2.75"/>
<ellipse cx="519.8" cy="134.3" rx="3" ry="2.75"/>
<ellipse cx="522.1" cy="139.9" rx="3" ry="2.75"/>
<ellipse cx="529.1" cy="139.5" rx="3" ry="2.75"/>
<ellipse cx="512.2" cy="149.8" rx="3" ry="2.75"/>
<ellipse cx="514.2" cy="150.4" rx="3" ry="2.75"/>
<ellipse cx="528.1" cy="149.8" rx="3" ry="2.75"/>
<ellipse cx="529.1" cy="158.1" rx="3" ry="2.75"/>
<ellipse cx="516.2" cy="172.6" rx="3" ry="2.75"/>
<ellipse cx="517.2" cy="175.6" rx="3" ry="2.75"/>
<ellipse cx="521.7" cy="176.2" rx="3" ry="2.75"/>
<ellipse cx="526.1" cy="177.2" rx="3" ry="2.75"/>
<ellipse cx="513.2" cy="184.5" rx="3" ry="2.75"/>
<ellipse cx="529.1" cy="183.9" rx="3" ry="2.75"/>
<ellipse cx="516.2" cy="188.5" rx="3" ry="2.75"/>
<ellipse cx="529.7" cy="199.8" rx="3" ry="2.75"/>
</g>
</g>
<rect x="406.2" y="43.6" width="133.2" height="163.6" fill="none" stroke="#8a8a8a" stroke-width="0.8"/>
<line x1="425.4" y1="207.2" x2="425.4" y2="210.4" stroke="#333" stroke-width="1.1"/>
<text x="425.4" y="222.4" font-size="10.2" text-anchor="middle" fill="#1a1a1a" stroke="#1a1a1a" stroke-width="0.22">12</text>
<line x1="457" y1="207.2" x2="457" y2="210.4" stroke="#333" stroke-width="1.1"/>
<text x="457" y="222.4" font-size="10.2" text-anchor="middle" fill="#1a1a1a" stroke="#1a1a1a" stroke-width="0.22">6</text>
<line x1="489.3" y1="207.2" x2="489.3" y2="210.4" stroke="#333" stroke-width="1.1"/>
<text x="489.3" y="222.4" font-size="10.2" text-anchor="middle" fill="#1a1a1a" stroke="#1a1a1a" stroke-width="0.22">1</text>
<line x1="521.2" y1="207.2" x2="521.2" y2="210.4" stroke="#333" stroke-width="1.1"/>
<text x="521.2" y="222.4" font-size="10.2" text-anchor="middle" fill="#1a1a1a" stroke="#1a1a1a" stroke-width="0.22">1</text>
<text x="474.5" y="239.6" font-size="9.8" text-anchor="middle" fill="#111" stroke="#111" stroke-width="0.22">FREQUENCY</text>
<rect x="548.4" y="43.6" width="132.4" height="163.6" fill="#ffffff" stroke="none" stroke-width="1"/>
<line x1="548.4" y1="160.66" x2="680.8" y2="160.66" stroke="#f0f0f0" stroke-width="0.9"/>
<line x1="548.4" y1="112.78" x2="680.8" y2="112.78" stroke="#f0f0f0" stroke-width="0.9"/>
<line x1="548.4" y1="64.9" x2="680.8" y2="64.9" stroke="#f0f0f0" stroke-width="0.9"/>
<line x1="548.4" y1="184.6" x2="680.8" y2="184.6" stroke="#e7e7e7" stroke-width="1.15"/>
<line x1="548.4" y1="136.72" x2="680.8" y2="136.72" stroke="#e7e7e7" stroke-width="1.15"/>
<line x1="548.4" y1="88.84" x2="680.8" y2="88.84" stroke="#e7e7e7" stroke-width="1.15"/>
<line x1="567" y1="43.6" x2="567" y2="207.2" stroke="#e7e7e7" stroke-width="1.15"/>
<line x1="598.7" y1="43.6" x2="598.7" y2="207.2" stroke="#e7e7e7" stroke-width="1.15"/>
<line x1="630.5" y1="43.6" x2="630.5" y2="207.2" stroke="#e7e7e7" stroke-width="1.15"/>
<line x1="662.3" y1="43.6" x2="662.3" y2="207.2" stroke="#e7e7e7" stroke-width="1.15"/>
<rect x="548.4" y="26.4" width="132.4" height="17.2" fill="#dadada" stroke="#3d3d3d" stroke-width="0.9"/>
<text x="613.3" y="39.5" font-size="11" text-anchor="middle" fill="#111" stroke="#111" stroke-width="0.24">UST</text>
<clipPath id="clipBU"><rect x="548.4" y="43.6" width="132.4" height="163.6"/></clipPath>
<g clip-path="url(#clipBU)">
<line x1="567" y1="66.34" x2="567" y2="105.48" stroke="#111" stroke-width="1.6"/>
<line x1="567" y1="145.34" x2="567" y2="184.84" stroke="#111" stroke-width="1.6"/>
<rect x="554.8" y="105.48" width="24.4" height="39.86" fill="#ffffff" stroke="#111" stroke-width="1.6"/>
<line x1="554.8" y1="145.34" x2="579.2" y2="145.34" stroke="#000" stroke-width="2.5"/>
<line x1="598.7" y1="106.08" x2="598.7" y2="145.34" stroke="#111" stroke-width="1.6"/>
<rect x="586.5" y="145.34" width="24.4" height="39.74" fill="#ffffff" stroke="#111" stroke-width="1.6"/>
<line x1="586.5" y1="145.34" x2="610.9" y2="145.34" stroke="#000" stroke-width="2.5"/>
<ellipse cx="598.7" cy="66.1" rx="2.7" ry="2.2" fill="#000"/>
<rect x="618.3" y="145.34" width="24.4" height="39.74" fill="#ffffff" stroke="#111" stroke-width="1.6"/>
<line x1="618.3" y1="184.6" x2="642.7" y2="184.6" stroke="#000" stroke-width="2.5"/>
<ellipse cx="630.5" cy="66.1" rx="2.7" ry="2.2" fill="#000"/>
<line x1="662.3" y1="106.08" x2="662.3" y2="145.34" stroke="#111" stroke-width="1.6"/>
<rect x="650.1" y="145.34" width="24.4" height="39.74" fill="#ffffff" stroke="#111" stroke-width="1.6"/>
<line x1="650.1" y1="184.6" x2="674.5" y2="184.6" stroke="#000" stroke-width="2.5"/>
<ellipse cx="662.3" cy="66.1" rx="2.7" ry="2.2" fill="#000"/>
<g fill="#F8766D" fill-opacity="0.31" stroke="#F8766D" stroke-opacity="0.52" stroke-width="0.7">
<ellipse cx="558.5" cy="51.3" rx="3" ry="2.75"/>
<ellipse cx="565.9" cy="55.3" rx="3" ry="2.75"/>
<ellipse cx="571.8" cy="57.5" rx="3" ry="2.75"/>
<ellipse cx="561.3" cy="63.9" rx="3" ry="2.75"/>
<ellipse cx="569.8" cy="64.3" rx="3" ry="2.75"/>
<ellipse cx="575.8" cy="78.3" rx="3" ry="2.75"/>
<ellipse cx="557.3" cy="96" rx="3" ry="2.75"/>
<ellipse cx="566.5" cy="94.6" rx="3" ry="2.75"/>
<ellipse cx="563.9" cy="98.6" rx="3" ry="2.75"/>
<ellipse cx="558.5" cy="97.2" rx="3" ry="2.75"/>
<ellipse cx="558.5" cy="107.9" rx="3" ry="2.75"/>
<ellipse cx="564.5" cy="107.9" rx="3" ry="2.75"/>
<ellipse cx="572.4" cy="110.5" rx="3" ry="2.75"/>
<ellipse cx="558.5" cy="132.9" rx="3" ry="2.75"/>
<ellipse cx="575.8" cy="132.9" rx="3" ry="2.75"/>
<ellipse cx="560.5" cy="140.8" rx="3" ry="2.75"/>
<ellipse cx="567.4" cy="140.4" rx="3" ry="2.75"/>
<ellipse cx="571.2" cy="140.8" rx="3" ry="2.75"/>
<ellipse cx="574.4" cy="140.8" rx="3" ry="2.75"/>
<ellipse cx="562.5" cy="146.2" rx="3" ry="2.75"/>
<ellipse cx="559.3" cy="149.8" rx="3" ry="2.75"/>
<ellipse cx="561.9" cy="151.4" rx="3" ry="2.75"/>
<ellipse cx="573.8" cy="157.1" rx="3" ry="2.75"/>
<ellipse cx="575.4" cy="170.2" rx="3" ry="2.75"/>
<ellipse cx="569.8" cy="172" rx="3" ry="2.75"/>
<ellipse cx="570.4" cy="174.6" rx="3" ry="2.75"/>
<ellipse cx="572.4" cy="184.5" rx="3" ry="2.75"/>
<ellipse cx="565.3" cy="188.5" rx="3" ry="2.75"/>
<ellipse cx="576.2" cy="192.9" rx="3" ry="2.75"/>
</g>
<g fill="#C77CFF" fill-opacity="0.31" stroke="#C77CFF" stroke-opacity="0.52" stroke-width="0.7">
<ellipse cx="600" cy="63.5" rx="3" ry="2.75"/>
<ellipse cx="591.1" cy="114.9" rx="3" ry="2.75"/>
<ellipse cx="599" cy="117.1" rx="3" ry="2.75"/>
<ellipse cx="590.3" cy="133.9" rx="3" ry="2.75"/>
<ellipse cx="599.6" cy="131.5" rx="3" ry="2.75"/>
<ellipse cx="603.2" cy="134.9" rx="3" ry="2.75"/>
<ellipse cx="601.6" cy="140.8" rx="3" ry="2.75"/>
<ellipse cx="606.6" cy="143.8" rx="3" ry="2.75"/>
<ellipse cx="589.3" cy="145.8" rx="3" ry="2.75"/>
<ellipse cx="593.7" cy="145.8" rx="3" ry="2.75"/>
<ellipse cx="603.6" cy="146.8" rx="3" ry="2.75"/>
<ellipse cx="599.6" cy="150.8" rx="3" ry="2.75"/>
<ellipse cx="599" cy="154.7" rx="3" ry="2.75"/>
<ellipse cx="601.6" cy="157.1" rx="3" ry="2.75"/>
<ellipse cx="600.6" cy="159.7" rx="3" ry="2.75"/>
<ellipse cx="595.6" cy="175.2" rx="3" ry="2.75"/>
<ellipse cx="606.2" cy="173.6" rx="3" ry="2.75"/>
<ellipse cx="604.6" cy="178.6" rx="3" ry="2.75"/>
<ellipse cx="603.2" cy="180.6" rx="3" ry="2.75"/>
<ellipse cx="599" cy="186.5" rx="3" ry="2.75"/>
<ellipse cx="603.2" cy="189.5" rx="3" ry="2.75"/>
<ellipse cx="594" cy="191.9" rx="3" ry="2.75"/>
<ellipse cx="606.6" cy="191.9" rx="3" ry="2.75"/>
<ellipse cx="589.1" cy="196.4" rx="3" ry="2.75"/>
<ellipse cx="605.6" cy="195.4" rx="3" ry="2.75"/>
<ellipse cx="591.7" cy="199.4" rx="3" ry="2.75"/>
<ellipse cx="605" cy="199.8" rx="3" ry="2.75"/>
</g>
<g fill="#7CAE00" fill-opacity="0.31" stroke="#7CAE00" stroke-opacity="0.52" stroke-width="0.7">
<ellipse cx="622.4" cy="54.3" rx="3" ry="2.75"/>
<ellipse cx="635.7" cy="129.3" rx="3" ry="2.75"/>
<ellipse cx="639.9" cy="129.3" rx="3" ry="2.75"/>
<ellipse cx="628.4" cy="133.5" rx="3" ry="2.75"/>
<ellipse cx="632" cy="135.9" rx="3" ry="2.75"/>
<ellipse cx="639.9" cy="134.3" rx="3" ry="2.75"/>
<ellipse cx="630.4" cy="144.8" rx="3" ry="2.75"/>
<ellipse cx="624.8" cy="145.4" rx="3" ry="2.75"/>
<ellipse cx="622.4" cy="150.2" rx="3" ry="2.75"/>
<ellipse cx="632" cy="153.4" rx="3" ry="2.75"/>
<ellipse cx="626" cy="156.1" rx="3" ry="2.75"/>
<ellipse cx="633.8" cy="154.7" rx="3" ry="2.75"/>
<ellipse cx="622" cy="173.2" rx="3" ry="2.75"/>
<ellipse cx="632" cy="170.6" rx="3" ry="2.75"/>
<ellipse cx="628" cy="175.2" rx="3" ry="2.75"/>
<ellipse cx="631.4" cy="176.2" rx="3" ry="2.75"/>
<ellipse cx="634.4" cy="179.2" rx="3" ry="2.75"/>
<ellipse cx="632" cy="180.6" rx="3" ry="2.75"/>
<ellipse cx="623.4" cy="187.5" rx="3" ry="2.75"/>
<ellipse cx="626.4" cy="186.5" rx="3" ry="2.75"/>
<ellipse cx="622.4" cy="190.5" rx="3" ry="2.75"/>
<ellipse cx="627.4" cy="189.5" rx="3" ry="2.75"/>
<ellipse cx="633.8" cy="189.1" rx="3" ry="2.75"/>
<ellipse cx="622" cy="193.1" rx="3" ry="2.75"/>
<ellipse cx="631.4" cy="193.5" rx="3" ry="2.75"/>
<ellipse cx="628.4" cy="196.4" rx="3" ry="2.75"/>
<ellipse cx="624.4" cy="199.4" rx="3" ry="2.75"/>
<ellipse cx="630" cy="197.8" rx="3" ry="2.75"/>
</g>
<g fill="#00BFC4" fill-opacity="0.31" stroke="#00BFC4" stroke-opacity="0.52" stroke-width="0.7">
<ellipse cx="658.2" cy="72.8" rx="3" ry="2.75"/>
<ellipse cx="668.7" cy="116.5" rx="3" ry="2.75"/>
<ellipse cx="657.2" cy="133.5" rx="3" ry="2.75"/>
<ellipse cx="657.8" cy="134.9" rx="3" ry="2.75"/>
<ellipse cx="667.1" cy="136.3" rx="3" ry="2.75"/>
<ellipse cx="664.1" cy="139.9" rx="3" ry="2.75"/>
<ellipse cx="654.2" cy="144.8" rx="3" ry="2.75"/>
<ellipse cx="664.5" cy="143.8" rx="3" ry="2.75"/>
<ellipse cx="670.5" cy="157.7" rx="3" ry="2.75"/>
<ellipse cx="654.2" cy="160.3" rx="3" ry="2.75"/>
<ellipse cx="670.1" cy="159.7" rx="3" ry="2.75"/>
<ellipse cx="671.1" cy="170.6" rx="3" ry="2.75"/>
<ellipse cx="655.8" cy="173.2" rx="3" ry="2.75"/>
<ellipse cx="659.2" cy="172.6" rx="3" ry="2.75"/>
<ellipse cx="664.1" cy="174" rx="3" ry="2.75"/>
<ellipse cx="661.2" cy="181.1" rx="3" ry="2.75"/>
<ellipse cx="670.1" cy="181.1" rx="3" ry="2.75"/>
<ellipse cx="666.1" cy="182.5" rx="3" ry="2.75"/>
<ellipse cx="662.1" cy="184.5" rx="3" ry="2.75"/>
<ellipse cx="655.8" cy="189.5" rx="3" ry="2.75"/>
<ellipse cx="662.7" cy="190.5" rx="3" ry="2.75"/>
<ellipse cx="668.1" cy="189.5" rx="3" ry="2.75"/>
<ellipse cx="666.1" cy="193.1" rx="3" ry="2.75"/>
<ellipse cx="669.1" cy="193.5" rx="3" ry="2.75"/>
<ellipse cx="663.1" cy="195" rx="3" ry="2.75"/>
<ellipse cx="655.8" cy="196.4" rx="3" ry="2.75"/>
<ellipse cx="659.8" cy="196.4" rx="3" ry="2.75"/>
<ellipse cx="666.1" cy="196.4" rx="3" ry="2.75"/>
<ellipse cx="670.5" cy="197" rx="3" ry="2.75"/>
</g>
</g>
<rect x="548.4" y="43.6" width="132.4" height="163.6" fill="none" stroke="#4a4a4a" stroke-width="0.9"/>
<line x1="567" y1="207.2" x2="567" y2="210.4" stroke="#333" stroke-width="1.1"/>
<text x="567" y="222.4" font-size="10.2" text-anchor="middle" fill="#1a1a1a" stroke="#1a1a1a" stroke-width="0.22">12</text>
<line x1="598.7" y1="207.2" x2="598.7" y2="210.4" stroke="#333" stroke-width="1.1"/>
<text x="598.7" y="222.4" font-size="10.2" text-anchor="middle" fill="#1a1a1a" stroke="#1a1a1a" stroke-width="0.22">6</text>
<line x1="630.5" y1="207.2" x2="630.5" y2="210.4" stroke="#333" stroke-width="1.1"/>
<text x="630.5" y="222.4" font-size="10.2" text-anchor="middle" fill="#1a1a1a" stroke="#1a1a1a" stroke-width="0.22">1</text>
<line x1="662.3" y1="207.2" x2="662.3" y2="210.4" stroke="#333" stroke-width="1.1"/>
<text x="662.3" y="222.4" font-size="10.2" text-anchor="middle" fill="#1a1a1a" stroke="#1a1a1a" stroke-width="0.22">1</text>
<text x="614.3" y="239.6" font-size="9.8" text-anchor="middle" fill="#111" stroke="#111" stroke-width="0.22">FREQUENCY</text>
<line x1="403" y1="184.6" x2="406.2" y2="184.6" stroke="#333" stroke-width="1.1"/>
<text x="399.3" y="187.9" font-size="10.2" text-anchor="end" fill="#1a1a1a" stroke="#1a1a1a" stroke-width="0.22">0.0</text>
<line x1="403" y1="136.72" x2="406.2" y2="136.72" stroke="#333" stroke-width="1.1"/>
<text x="399.3" y="140.02" font-size="10.2" text-anchor="end" fill="#1a1a1a" stroke="#1a1a1a" stroke-width="0.22">0.4</text>
<line x1="403" y1="88.84" x2="406.2" y2="88.84" stroke="#333" stroke-width="1.1"/>
<text x="399.3" y="92.14" font-size="10.2" text-anchor="end" fill="#1a1a1a" stroke="#1a1a1a" stroke-width="0.22">0.8</text>
<text x="374.4" y="133" font-size="9.9" text-anchor="middle" fill="#111" stroke="#111" stroke-width="0.22" transform="rotate(-90 374.4 133)">CHOICE PROPORTION</text>
<text x="0.9" y="267.9" font-size="7.9" text-anchor="start" fill="#2a2a2a">C</text>
<text x="23.8" y="268.5" font-size="9.95" text-anchor="start" fill="#111" stroke="#111" stroke-width="0.22">i. By FREQUENCY</text>
<text x="238.6" y="268.6" font-size="10" text-anchor="start" fill="#111" stroke="#111" stroke-width="0.22">ii. By GROUP</text>
<line x1="45.2" y1="288.3" x2="154.4" y2="288.3" stroke="#050505" stroke-width="1.45"/>
<text x="45.6" y="288.9" font-size="15.5" fill="#1a1a1a">**</text>
<line x1="122.3" y1="284.8" x2="221.7" y2="284.8" stroke="#050505" stroke-width="1.45"/>
<text x="122.4" y="285.5" font-size="15.5" fill="#1a1a1a">**</text>
<line x1="266.2" y1="287.8" x2="315.3" y2="287.8" stroke="#050505" stroke-width="1.45"/>
<text x="286.3" y="288.3" font-size="15.5" fill="#1a1a1a">**</text>
<rect x="36.4" y="310.3" width="95.8" height="148.5" fill="#cccccc" stroke="none" stroke-width="1"/>
<line x1="36.4" y1="443.49" x2="132.2" y2="443.49" stroke="#e0e0e0" stroke-width="0.9"/>
<line x1="36.4" y1="415.06" x2="132.2" y2="415.06" stroke="#e0e0e0" stroke-width="0.9"/>
<line x1="36.4" y1="386.64" x2="132.2" y2="386.64" stroke="#e0e0e0" stroke-width="0.9"/>
<line x1="36.4" y1="358.21" x2="132.2" y2="358.21" stroke="#e0e0e0" stroke-width="0.9"/>
<line x1="36.4" y1="329.79" x2="132.2" y2="329.79" stroke="#e0e0e0" stroke-width="0.9"/>
<line x1="36.4" y1="457.7" x2="132.2" y2="457.7" stroke="#f0f0f0" stroke-width="1.15"/>
<line x1="36.4" y1="429.27" x2="132.2" y2="429.27" stroke="#f0f0f0" stroke-width="1.15"/>
<line x1="36.4" y1="400.85" x2="132.2" y2="400.85" stroke="#f0f0f0" stroke-width="1.15"/>
<line x1="36.4" y1="372.43" x2="132.2" y2="372.43" stroke="#f0f0f0" stroke-width="1.15"/>
<line x1="36.4" y1="344" x2="132.2" y2="344" stroke="#f0f0f0" stroke-width="1.15"/>
<line x1="36.4" y1="315.57" x2="132.2" y2="315.57" stroke="#f0f0f0" stroke-width="1.15"/>
<line x1="49.7" y1="310.3" x2="49.7" y2="458.8" stroke="#f0f0f0" stroke-width="1.15"/>
<line x1="72.8" y1="310.3" x2="72.8" y2="458.8" stroke="#f0f0f0" stroke-width="1.15"/>
<line x1="96.2" y1="310.3" x2="96.2" y2="458.8" stroke="#f0f0f0" stroke-width="1.15"/>
<line x1="119.3" y1="310.3" x2="119.3" y2="458.8" stroke="#f0f0f0" stroke-width="1.15"/>
<rect x="36.4" y="295.4" width="95.8" height="14.9" fill="#656565" stroke="#3d3d3d" stroke-width="0.9"/>
<text x="86.2" y="307.35" font-size="11" text-anchor="middle" fill="#111" stroke="#111" stroke-width="0.24">NIT</text>
<clipPath id="clipCN"><rect x="36.4" y="310.3" width="95.8" height="148.5"/></clipPath>
<g clip-path="url(#clipCN)">
<line x1="49.7" y1="364" x2="49.7" y2="399.4" stroke="#111" stroke-width="1.6"/>
<line x1="49.7" y1="428.6" x2="49.7" y2="442.6" stroke="#111" stroke-width="1.6"/>
<rect x="40.9" y="399.4" width="17.6" height="29.2" fill="#ffffff" stroke="#111" stroke-width="1.6"/>
<line x1="40.9" y1="410.9" x2="58.5" y2="410.9" stroke="#000" stroke-width="2.5"/>
<ellipse cx="49.8" cy="317.5" rx="2.15" ry="2.15" fill="#000"/>
<line x1="72.8" y1="339.6" x2="72.8" y2="373.7" stroke="#111" stroke-width="1.6"/>
<line x1="72.8" y1="427.5" x2="72.8" y2="449.5" stroke="#111" stroke-width="1.6"/>
<rect x="64" y="373.7" width="17.6" height="53.8" fill="#ffffff" stroke="#111" stroke-width="1.6"/>
<line x1="64" y1="400.6" x2="81.6" y2="400.6" stroke="#000" stroke-width="2.5"/>
<line x1="96.2" y1="374" x2="96.2" y2="397.4" stroke="#111" stroke-width="1.6"/>
<line x1="96.2" y1="417.8" x2="96.2" y2="438.4" stroke="#111" stroke-width="1.6"/>
<rect x="87.4" y="397.4" width="17.6" height="20.4" fill="#ffffff" stroke="#111" stroke-width="1.6"/>
<line x1="87.4" y1="405.5" x2="105" y2="405.5" stroke="#000" stroke-width="2.5"/>
<ellipse cx="95.9" cy="360.2" rx="2.15" ry="2.15" fill="#000"/>
<ellipse cx="95.9" cy="363.6" rx="2.15" ry="2.15" fill="#000"/>
<line x1="119.3" y1="327.6" x2="119.3" y2="384.6" stroke="#111" stroke-width="1.6"/>
<line x1="119.3" y1="424.1" x2="119.3" y2="440.9" stroke="#111" stroke-width="1.6"/>
<rect x="110.5" y="384.6" width="17.6" height="39.5" fill="#ffffff" stroke="#111" stroke-width="1.6"/>
<line x1="110.5" y1="411.7" x2="128.1" y2="411.7" stroke="#000" stroke-width="2.5"/>
<g fill="#F8766D" fill-opacity="0.31" stroke="#F8766D" stroke-opacity="0.52" stroke-width="0.7">
<circle cx="46" cy="317.2" r="2.6"/>
<circle cx="52" cy="364.4" r="2.6"/>
<circle cx="47.5" cy="390.1" r="2.6"/>
<circle cx="49" cy="396.3" r="2.6"/>
<circle cx="49.4" cy="400.9" r="2.6"/>
<circle cx="49.4" cy="404.7" r="2.6"/>
<circle cx="52.1" cy="408.6" r="2.6"/>
<circle cx="46" cy="412.4" r="2.6"/>
<circle cx="53.2" cy="425.2" r="2.6"/>
<circle cx="52.4" cy="427" r="2.6"/>
<circle cx="54" cy="430.1" r="2.6"/>
<circle cx="45.2" cy="433.5" r="2.6"/>
<circle cx="52.1" cy="436.5" r="2.6"/>
<circle cx="45.5" cy="443.1" r="2.6"/>
</g>
<g fill="#C77CFF" fill-opacity="0.31" stroke="#C77CFF" stroke-opacity="0.52" stroke-width="0.7">
<circle cx="70.4" cy="338.4" r="2.6"/>
<circle cx="74.2" cy="341" r="2.6"/>
<circle cx="76.7" cy="348.2" r="2.6"/>
<circle cx="72.1" cy="351.5" r="2.6"/>
<circle cx="69" cy="356.8" r="2.6"/>
<circle cx="72.4" cy="371.7" r="2.6"/>
<circle cx="76.7" cy="374.8" r="2.6"/>
<circle cx="72.9" cy="379.4" r="2.6"/>
<circle cx="75.5" cy="386.3" r="2.6"/>
<circle cx="73.6" cy="391.7" r="2.6"/>
<circle cx="69.6" cy="400.1" r="2.6"/>
<circle cx="77.8" cy="400.1" r="2.6"/>
<circle cx="71.3" cy="412.1" r="2.6"/>
<circle cx="75.5" cy="417" r="2.6"/>
<circle cx="77" cy="420.6" r="2.6"/>
<circle cx="71.3" cy="423.6" r="2.6"/>
<circle cx="75.8" cy="427.8" r="2.6"/>
<circle cx="69.6" cy="432.4" r="2.6"/>
<circle cx="68.1" cy="435.9" r="2.6"/>
<circle cx="75.2" cy="436.2" r="2.6"/>
<circle cx="70.1" cy="439.3" r="2.6"/>
<circle cx="70.9" cy="450.4" r="2.6"/>
</g>
<g fill="#7CAE00" fill-opacity="0.31" stroke="#7CAE00" stroke-opacity="0.52" stroke-width="0.7">
<circle cx="91.6" cy="363.3" r="2.6"/>
<circle cx="95.9" cy="361.5" r="2.6"/>
<circle cx="98.8" cy="374.4" r="2.6"/>
<circle cx="92.1" cy="390.9" r="2.6"/>
<circle cx="94.7" cy="400.9" r="2.6"/>
<circle cx="100.4" cy="400.6" r="2.6"/>
<circle cx="93.1" cy="408.6" r="2.6"/>
<circle cx="99.7" cy="412.1" r="2.6"/>
<circle cx="100.8" cy="420.1" r="2.6"/>
<circle cx="99.3" cy="434.4" r="2.6"/>
<circle cx="96.7" cy="437.8" r="2.6"/>
</g>
<g fill="#00BFC4" fill-opacity="0.31" stroke="#00BFC4" stroke-opacity="0.52" stroke-width="0.7">
<circle cx="121.6" cy="327.2" r="2.6"/>
<circle cx="119.3" cy="338.7" r="2.6"/>
<circle cx="123.6" cy="341" r="2.6"/>
<circle cx="118.2" cy="357.2" r="2.6"/>
<circle cx="123.1" cy="355.9" r="2.6"/>
<circle cx="121.6" cy="381" r="2.6"/>
<circle cx="116.6" cy="386.3" r="2.6"/>
<circle cx="117.7" cy="390.9" r="2.6"/>
<circle cx="118.5" cy="396" r="2.6"/>
<circle cx="116.2" cy="400.9" r="2.6"/>
<circle cx="116.9" cy="407.8" r="2.6"/>
<circle cx="120" cy="409.3" r="2.6"/>
<circle cx="122.8" cy="410.1" r="2.6"/>
<circle cx="121.6" cy="416.3" r="2.6"/>
<circle cx="122.3" cy="420.9" r="2.6"/>
<circle cx="116.2" cy="420.9" r="2.6"/>
<circle cx="119.3" cy="422.4" r="2.6"/>
<circle cx="114.6" cy="425.5" r="2.6"/>
<circle cx="122.3" cy="426.2" r="2.6"/>
<circle cx="116.2" cy="430.1" r="2.6"/>
<circle cx="115.4" cy="433.9" r="2.6"/>
<circle cx="123.1" cy="435" r="2.6"/>
<circle cx="120.8" cy="441.1" r="2.6"/>
</g>
</g>
<rect x="36.4" y="310.3" width="95.8" height="148.5" fill="none" stroke="#8a8a8a" stroke-width="0.8"/>
<line x1="49.7" y1="458.8" x2="49.7" y2="462" stroke="#333" stroke-width="1.1"/>
<text x="49.7" y="475" font-size="10.2" text-anchor="middle" fill="#1a1a1a" stroke="#1a1a1a" stroke-width="0.22">12</text>
<line x1="72.8" y1="458.8" x2="72.8" y2="462" stroke="#333" stroke-width="1.1"/>
<text x="72.8" y="475" font-size="10.2" text-anchor="middle" fill="#1a1a1a" stroke="#1a1a1a" stroke-width="0.22">6</text>
<line x1="96.2" y1="458.8" x2="96.2" y2="462" stroke="#333" stroke-width="1.1"/>
<text x="96.2" y="475" font-size="10.2" text-anchor="middle" fill="#1a1a1a" stroke="#1a1a1a" stroke-width="0.22">1</text>
<line x1="119.3" y1="458.8" x2="119.3" y2="462" stroke="#333" stroke-width="1.1"/>
<text x="119.3" y="475" font-size="10.2" text-anchor="middle" fill="#1a1a1a" stroke="#1a1a1a" stroke-width="0.22">1</text>
<rect x="138.8" y="310.3" width="95.9" height="148.5" fill="#ffffff" stroke="none" stroke-width="1"/>
<line x1="138.8" y1="443.49" x2="234.7" y2="443.49" stroke="#f0f0f0" stroke-width="0.9"/>
<line x1="138.8" y1="415.06" x2="234.7" y2="415.06" stroke="#f0f0f0" stroke-width="0.9"/>
<line x1="138.8" y1="386.64" x2="234.7" y2="386.64" stroke="#f0f0f0" stroke-width="0.9"/>
<line x1="138.8" y1="358.21" x2="234.7" y2="358.21" stroke="#f0f0f0" stroke-width="0.9"/>
<line x1="138.8" y1="329.79" x2="234.7" y2="329.79" stroke="#f0f0f0" stroke-width="0.9"/>
<line x1="138.8" y1="457.7" x2="234.7" y2="457.7" stroke="#e7e7e7" stroke-width="1.15"/>
<line x1="138.8" y1="429.27" x2="234.7" y2="429.27" stroke="#e7e7e7" stroke-width="1.15"/>
<line x1="138.8" y1="400.85" x2="234.7" y2="400.85" stroke="#e7e7e7" stroke-width="1.15"/>
<line x1="138.8" y1="372.43" x2="234.7" y2="372.43" stroke="#e7e7e7" stroke-width="1.15"/>
<line x1="138.8" y1="344" x2="234.7" y2="344" stroke="#e7e7e7" stroke-width="1.15"/>
<line x1="138.8" y1="315.57" x2="234.7" y2="315.57" stroke="#e7e7e7" stroke-width="1.15"/>
<line x1="152.2" y1="310.3" x2="152.2" y2="458.8" stroke="#e7e7e7" stroke-width="1.15"/>
<line x1="175.3" y1="310.3" x2="175.3" y2="458.8" stroke="#e7e7e7" stroke-width="1.15"/>
<line x1="197.8" y1="310.3" x2="197.8" y2="458.8" stroke="#e7e7e7" stroke-width="1.15"/>
<line x1="220.6" y1="310.3" x2="220.6" y2="458.8" stroke="#e7e7e7" stroke-width="1.15"/>
<rect x="138.8" y="295.4" width="95.9" height="14.9" fill="#dadada" stroke="#3d3d3d" stroke-width="0.9"/>
<text x="188.25" y="307.35" font-size="11" text-anchor="middle" fill="#111" stroke="#111" stroke-width="0.24">UST</text>
<clipPath id="clipCU"><rect x="138.8" y="310.3" width="95.9" height="148.5"/></clipPath>
<g clip-path="url(#clipCU)">
<line x1="152.2" y1="384.8" x2="152.2" y2="417.8" stroke="#111" stroke-width="1.6"/>
<line x1="152.2" y1="447.2" x2="152.2" y2="451.2" stroke="#111" stroke-width="1.6"/>
<rect x="143.4" y="417.8" width="17.6" height="29.4" fill="#ffffff" stroke="#111" stroke-width="1.6"/>
<line x1="143.4" y1="435.7" x2="161" y2="435.7" stroke="#000" stroke-width="2.5"/>
<ellipse cx="152.1" cy="355.3" rx="2.15" ry="2.15" fill="#000"/>
<ellipse cx="152.1" cy="358" rx="2.15" ry="2.15" fill="#000"/>
<line x1="175.3" y1="381.7" x2="175.3" y2="411.6" stroke="#111" stroke-width="1.6"/>
<line x1="175.3" y1="442.3" x2="175.3" y2="450.6" stroke="#111" stroke-width="1.6"/>
<rect x="166.5" y="411.6" width="17.6" height="30.7" fill="#ffffff" stroke="#111" stroke-width="1.6"/>
<line x1="166.5" y1="421.2" x2="184.1" y2="421.2" stroke="#000" stroke-width="2.5"/>
<ellipse cx="175.5" cy="321.4" rx="2.15" ry="2.15" fill="#000"/>
<line x1="197.8" y1="356.6" x2="197.8" y2="383.4" stroke="#111" stroke-width="1.6"/>
<line x1="197.8" y1="434.3" x2="197.8" y2="449.4" stroke="#111" stroke-width="1.6"/>
<rect x="189" y="383.4" width="17.6" height="50.9" fill="#ffffff" stroke="#111" stroke-width="1.6"/>
<line x1="189" y1="424.7" x2="206.6" y2="424.7" stroke="#000" stroke-width="2.5"/>
<line x1="220.6" y1="386.9" x2="220.6" y2="417.5" stroke="#111" stroke-width="1.6"/>
<line x1="220.6" y1="445.3" x2="220.6" y2="452.4" stroke="#111" stroke-width="1.6"/>
<rect x="211.8" y="417.5" width="17.6" height="27.8" fill="#ffffff" stroke="#111" stroke-width="1.6"/>
<line x1="211.8" y1="426.2" x2="229.4" y2="426.2" stroke="#000" stroke-width="2.5"/>
<ellipse cx="220.6" cy="331.8" rx="2.15" ry="2.15" fill="#000"/>
<g fill="#F8766D" fill-opacity="0.31" stroke="#F8766D" stroke-opacity="0.52" stroke-width="0.7">
<circle cx="148" cy="354.9" r="2.6"/>
<circle cx="156.3" cy="357.9" r="2.6"/>
<circle cx="149.5" cy="383.8" r="2.6"/>
<circle cx="148.3" cy="394" r="2.6"/>
<circle cx="152.9" cy="393.2" r="2.6"/>
<circle cx="155.7" cy="399.4" r="2.6"/>
<circle cx="148.6" cy="402.4" r="2.6"/>
<circle cx="148.3" cy="407" r="2.6"/>
<circle cx="151.4" cy="408.6" r="2.6"/>
<circle cx="148" cy="414.7" r="2.6"/>
<circle cx="150.6" cy="420.9" r="2.6"/>
<circle cx="154.4" cy="421.6" r="2.6"/>
<circle cx="149.1" cy="424.7" r="2.6"/>
<circle cx="152.9" cy="426.2" r="2.6"/>
<circle cx="150.6" cy="429.3" r="2.6"/>
<circle cx="154.4" cy="430.1" r="2.6"/>
<circle cx="151.4" cy="433.2" r="2.6"/>
<circle cx="149.8" cy="435.5" r="2.6"/>
<circle cx="153.7" cy="436.2" r="2.6"/>
<circle cx="152.1" cy="438.5" r="2.6"/>
<circle cx="155.2" cy="439.3" r="2.6"/>
<circle cx="150.6" cy="440.8" r="2.6"/>
<circle cx="152.9" cy="443.1" r="2.6"/>
<circle cx="149.1" cy="443.9" r="2.6"/>
<circle cx="154.4" cy="444.7" r="2.6"/>
<circle cx="151.4" cy="446.2" r="2.6"/>
<circle cx="147.5" cy="446.2" r="2.6"/>
<circle cx="156" cy="447" r="2.6"/>
<circle cx="149.8" cy="449.3" r="2.6"/>
<circle cx="152.9" cy="449.7" r="2.6"/>
<circle cx="155.2" cy="450.1" r="2.6"/>
<circle cx="148" cy="450.8" r="2.6"/>
<circle cx="151.4" cy="451.6" r="2.6"/>
<circle cx="154.1" cy="451.6" r="2.6"/>
</g>
<g fill="#C77CFF" fill-opacity="0.31" stroke="#C77CFF" stroke-opacity="0.52" stroke-width="0.7">
<circle cx="172.9" cy="321.4" r="2.6"/>
<circle cx="175.6" cy="381.7" r="2.6"/>
<circle cx="179.5" cy="394.4" r="2.6"/>
<circle cx="179" cy="405.5" r="2.6"/>
<circle cx="177.8" cy="408.3" r="2.6"/>
<circle cx="173.6" cy="417" r="2.6"/>
<circle cx="178.2" cy="416.3" r="2.6"/>
<circle cx="179.8" cy="416.6" r="2.6"/>
<circle cx="175.6" cy="420.1" r="2.6"/>
<circle cx="172.1" cy="426.2" r="2.6"/>
<circle cx="178.2" cy="426.7" r="2.6"/>
<circle cx="176.2" cy="434.7" r="2.6"/>
<circle cx="179.5" cy="437" r="2.6"/>
<circle cx="173.6" cy="441.1" r="2.6"/>
<circle cx="172.9" cy="450.1" r="2.6"/>
<circle cx="177.8" cy="446.2" r="2.6"/>
<circle cx="179.8" cy="445.4" r="2.6"/>
</g>
<g fill="#7CAE00" fill-opacity="0.31" stroke="#7CAE00" stroke-opacity="0.52" stroke-width="0.7">
<circle cx="197.8" cy="356.4" r="2.6"/>
<circle cx="195.9" cy="368.7" r="2.6"/>
<circle cx="197" cy="378.4" r="2.6"/>
<circle cx="199.4" cy="388.6" r="2.6"/>
<circle cx="200.2" cy="407.3" r="2.6"/>
<circle cx="196.2" cy="421.3" r="2.6"/>
<circle cx="195.1" cy="429.3" r="2.6"/>
<circle cx="197.1" cy="429.3" r="2.6"/>
<circle cx="194.8" cy="435.9" r="2.6"/>
<circle cx="195.1" cy="442.4" r="2.6"/>
<circle cx="197.4" cy="442.1" r="2.6"/>
<circle cx="193.6" cy="449.3" r="2.6"/>
</g>
<g fill="#00BFC4" fill-opacity="0.31" stroke="#00BFC4" stroke-opacity="0.52" stroke-width="0.7">
<circle cx="215.9" cy="386.3" r="2.6"/>
<circle cx="225.1" cy="394.4" r="2.6"/>
<circle cx="220.9" cy="414" r="2.6"/>
<circle cx="219.4" cy="421.6" r="2.6"/>
<circle cx="218.2" cy="424.2" r="2.6"/>
<circle cx="216.6" cy="425.8" r="2.6"/>
<circle cx="222.8" cy="430.9" r="2.6"/>
<circle cx="225.1" cy="438.1" r="2.6"/>
<circle cx="216.6" cy="444.7" r="2.6"/>
<circle cx="225.4" cy="446.2" r="2.6"/>
<circle cx="215.9" cy="448.5" r="2.6"/>
<circle cx="217.4" cy="450.8" r="2.6"/>
<circle cx="219.7" cy="452.4" r="2.6"/>
</g>
</g>
<rect x="138.8" y="310.3" width="95.9" height="148.5" fill="none" stroke="#4a4a4a" stroke-width="0.9"/>
<line x1="152.2" y1="458.8" x2="152.2" y2="462" stroke="#333" stroke-width="1.1"/>
<text x="152.2" y="475" font-size="10.2" text-anchor="middle" fill="#1a1a1a" stroke="#1a1a1a" stroke-width="0.22">12</text>
<line x1="175.3" y1="458.8" x2="175.3" y2="462" stroke="#333" stroke-width="1.1"/>
<text x="175.3" y="475" font-size="10.2" text-anchor="middle" fill="#1a1a1a" stroke="#1a1a1a" stroke-width="0.22">6</text>
<line x1="197.8" y1="458.8" x2="197.8" y2="462" stroke="#333" stroke-width="1.1"/>
<text x="197.8" y="475" font-size="10.2" text-anchor="middle" fill="#1a1a1a" stroke="#1a1a1a" stroke-width="0.22">1</text>
<line x1="220.6" y1="458.8" x2="220.6" y2="462" stroke="#333" stroke-width="1.1"/>
<text x="220.6" y="475" font-size="10.2" text-anchor="middle" fill="#1a1a1a" stroke="#1a1a1a" stroke-width="0.22">1</text>
<text x="90.3" y="491.7" font-size="9.8" text-anchor="middle" fill="#111" stroke="#111" stroke-width="0.22">FREQUENCY</text>
<text x="192.2" y="491.7" font-size="9.8" text-anchor="middle" fill="#111" stroke="#111" stroke-width="0.22">FREQUENCY</text>
<line x1="33.8" y1="457.7" x2="36.4" y2="457.7" stroke="#333" stroke-width="0.9"/>
<text x="31.4" y="459.5" font-size="10.2" text-anchor="end" fill="#1a1a1a" stroke="#1a1a1a" stroke-width="0.22">00</text>
<line x1="248.2" y1="457.7" x2="250.5" y2="457.7" stroke="#333" stroke-width="0.9"/>
<line x1="33.8" y1="429.27" x2="36.4" y2="429.27" stroke="#333" stroke-width="0.9"/>
<text x="31.4" y="432.67" font-size="10.2" text-anchor="end" fill="#1a1a1a" stroke="#1a1a1a" stroke-width="0.22">05</text>
<line x1="248.2" y1="429.27" x2="250.5" y2="429.27" stroke="#333" stroke-width="0.9"/>
<line x1="33.8" y1="400.85" x2="36.4" y2="400.85" stroke="#333" stroke-width="0.9"/>
<text x="31.4" y="404.25" font-size="10.2" text-anchor="end" fill="#1a1a1a" stroke="#1a1a1a" stroke-width="0.22">10</text>
<line x1="248.2" y1="400.85" x2="250.5" y2="400.85" stroke="#333" stroke-width="0.9"/>
<line x1="33.8" y1="372.43" x2="36.4" y2="372.43" stroke="#333" stroke-width="0.9"/>
<text x="31.4" y="375.82" font-size="10.2" text-anchor="end" fill="#1a1a1a" stroke="#1a1a1a" stroke-width="0.22">15</text>
<line x1="248.2" y1="372.43" x2="250.5" y2="372.43" stroke="#333" stroke-width="0.9"/>
<line x1="33.8" y1="344" x2="36.4" y2="344" stroke="#333" stroke-width="0.9"/>
<text x="31.4" y="347.4" font-size="10.2" text-anchor="end" fill="#1a1a1a" stroke="#1a1a1a" stroke-width="0.22">20</text>
<line x1="248.2" y1="344" x2="250.5" y2="344" stroke="#333" stroke-width="0.9"/>
<line x1="33.8" y1="315.57" x2="36.4" y2="315.57" stroke="#333" stroke-width="0.9"/>
<text x="31.4" y="318.97" font-size="10.2" text-anchor="end" fill="#1a1a1a" stroke="#1a1a1a" stroke-width="0.22">25</text>
<line x1="248.2" y1="315.57" x2="250.5" y2="315.57" stroke="#333" stroke-width="0.9"/>
<text x="11" y="375.5" font-size="9.8" text-anchor="middle" fill="#111" stroke="#111" stroke-width="0.22" transform="rotate(-90 11 375.5)">RESPONSE TIME</text>
<rect x="250.5" y="310.3" width="40.1" height="149.1" fill="#cccccc" stroke="none" stroke-width="1"/>
<line x1="250.5" y1="443.49" x2="290.6" y2="443.49" stroke="#e0e0e0" stroke-width="0.9"/>
<line x1="250.5" y1="415.06" x2="290.6" y2="415.06" stroke="#e0e0e0" stroke-width="0.9"/>
<line x1="250.5" y1="386.64" x2="290.6" y2="386.64" stroke="#e0e0e0" stroke-width="0.9"/>
<line x1="250.5" y1="358.21" x2="290.6" y2="358.21" stroke="#e0e0e0" stroke-width="0.9"/>
<line x1="250.5" y1="329.79" x2="290.6" y2="329.79" stroke="#e0e0e0" stroke-width="0.9"/>
<line x1="250.5" y1="457.7" x2="290.6" y2="457.7" stroke="#f0f0f0" stroke-width="1.15"/>
<line x1="250.5" y1="429.27" x2="290.6" y2="429.27" stroke="#f0f0f0" stroke-width="1.15"/>
<line x1="250.5" y1="400.85" x2="290.6" y2="400.85" stroke="#f0f0f0" stroke-width="1.15"/>
<line x1="250.5" y1="372.43" x2="290.6" y2="372.43" stroke="#f0f0f0" stroke-width="1.15"/>
<line x1="250.5" y1="344" x2="290.6" y2="344" stroke="#f0f0f0" stroke-width="1.15"/>
<line x1="250.5" y1="315.57" x2="290.6" y2="315.57" stroke="#f0f0f0" stroke-width="1.15"/>
<line x1="270.2" y1="310.3" x2="270.2" y2="459.4" stroke="#f0f0f0" stroke-width="1.15"/>
<rect x="250.5" y="295.4" width="40.1" height="14.9" fill="#656565" stroke="#3d3d3d" stroke-width="0.9"/>
<text x="269.95" y="307.35" font-size="11" text-anchor="middle" fill="#111" stroke="#111" stroke-width="0.24">NIT</text>
<clipPath id="clipCGN"><rect x="250.5" y="310.3" width="40.1" height="148.5"/></clipPath>
<g clip-path="url(#clipCGN)">
<line x1="270.2" y1="327" x2="270.2" y2="386.5" stroke="#111" stroke-width="1.6"/>
<line x1="270.2" y1="426.7" x2="270.2" y2="450.6" stroke="#111" stroke-width="1.6"/>
<rect x="257.5" y="386.5" width="25.4" height="40.2" fill="#ffffff" stroke="#111" stroke-width="1.6"/>
<line x1="257.5" y1="410.3" x2="282.9" y2="410.3" stroke="#000" stroke-width="2.5"/>
<g fill="#F8766D" fill-opacity="0.36" stroke="#F8766D" stroke-opacity="0.45" stroke-width="0.7">
<ellipse cx="268.6" cy="317.3" rx="1.1" ry="2.3"/>
<ellipse cx="275.9" cy="364.2" rx="1.1" ry="2.3"/>
<ellipse cx="271.8" cy="391.2" rx="1.1" ry="2.3"/>
<ellipse cx="276.1" cy="401.5" rx="1.1" ry="2.3"/>
<ellipse cx="273.5" cy="413.5" rx="1.1" ry="2.3"/>
<ellipse cx="268.3" cy="429.8" rx="1.1" ry="2.3"/>
<ellipse cx="267.5" cy="435.8" rx="1.1" ry="2.3"/>
<ellipse cx="272.1" cy="428.38" rx="1.1" ry="2.3"/>
<ellipse cx="274.34" cy="437.41" rx="1.1" ry="2.3"/>
<ellipse cx="273.62" cy="436.5" rx="1.1" ry="2.3"/>
</g>
<g fill="#C77CFF" fill-opacity="0.36" stroke="#C77CFF" stroke-opacity="0.45" stroke-width="0.7">
<ellipse cx="266.5" cy="338.3" rx="1.1" ry="2.3"/>
<ellipse cx="275.6" cy="340.7" rx="1.1" ry="2.3"/>
<ellipse cx="267.3" cy="348" rx="1.1" ry="2.3"/>
<ellipse cx="276.4" cy="351.7" rx="1.1" ry="2.3"/>
<ellipse cx="273.5" cy="356.9" rx="1.1" ry="2.3"/>
<ellipse cx="266.5" cy="372.2" rx="1.1" ry="2.3"/>
<ellipse cx="265.1" cy="379.5" rx="1.1" ry="2.3"/>
<ellipse cx="264" cy="381.4" rx="1.1" ry="2.3"/>
<ellipse cx="267" cy="392.9" rx="1.1" ry="2.3"/>
<ellipse cx="270.6" cy="397.2" rx="1.1" ry="2.3"/>
<ellipse cx="276.1" cy="413.5" rx="1.1" ry="2.3"/>
<ellipse cx="267.5" cy="423" rx="1.1" ry="2.3"/>
<ellipse cx="273.5" cy="439.3" rx="1.1" ry="2.3"/>
<ellipse cx="274.9" cy="450.8" rx="1.1" ry="2.3"/>
<ellipse cx="264.38" cy="418.28" rx="1.1" ry="2.3"/>
<ellipse cx="276.26" cy="427.45" rx="1.1" ry="2.3"/>
<ellipse cx="275.71" cy="400.66" rx="1.1" ry="2.3"/>
<ellipse cx="270.1" cy="407.33" rx="1.1" ry="2.3"/>
</g>
<g fill="#7CAE00" fill-opacity="0.36" stroke="#7CAE00" stroke-opacity="0.45" stroke-width="0.7">
<ellipse cx="268.6" cy="362.9" rx="1.1" ry="2.3"/>
<ellipse cx="272.2" cy="360.9" rx="1.1" ry="2.3"/>
<ellipse cx="270.6" cy="374.7" rx="1.1" ry="2.3"/>
<ellipse cx="276.6" cy="391.7" rx="1.1" ry="2.3"/>
<ellipse cx="266.6" cy="398.9" rx="1.1" ry="2.3"/>
<ellipse cx="273.5" cy="403.2" rx="1.1" ry="2.3"/>
<ellipse cx="267.5" cy="403.2" rx="1.1" ry="2.3"/>
<ellipse cx="267.5" cy="416.9" rx="1.1" ry="2.3"/>
<ellipse cx="275.2" cy="421.2" rx="1.1" ry="2.3"/>
<ellipse cx="275.6" cy="435" rx="1.1" ry="2.3"/>
</g>
<g fill="#00BFC4" fill-opacity="0.36" stroke="#00BFC4" stroke-opacity="0.45" stroke-width="0.7">
<ellipse cx="268.9" cy="327" rx="1.1" ry="2.3"/>
<ellipse cx="265.4" cy="340.7" rx="1.1" ry="2.3"/>
<ellipse cx="266.2" cy="355.3" rx="1.1" ry="2.3"/>
<ellipse cx="271.5" cy="357.4" rx="1.1" ry="2.3"/>
<ellipse cx="275.1" cy="381.6" rx="1.1" ry="2.3"/>
<ellipse cx="275.2" cy="382.1" rx="1.1" ry="2.3"/>
<ellipse cx="264" cy="401.5" rx="1.1" ry="2.3"/>
<ellipse cx="265.8" cy="409.2" rx="1.1" ry="2.3"/>
<ellipse cx="263.2" cy="421.2" rx="1.1" ry="2.3"/>
<ellipse cx="271.8" cy="422.1" rx="1.1" ry="2.3"/>
<ellipse cx="264" cy="424.7" rx="1.1" ry="2.3"/>
<ellipse cx="276.1" cy="429" rx="1.1" ry="2.3"/>
<ellipse cx="269.2" cy="436.7" rx="1.1" ry="2.3"/>
<ellipse cx="273.1" cy="441.9" rx="1.1" ry="2.3"/>
<ellipse cx="271.07" cy="422.96" rx="1.1" ry="2.3"/>
<ellipse cx="264.17" cy="408.67" rx="1.1" ry="2.3"/>
<ellipse cx="267.63" cy="436.65" rx="1.1" ry="2.3"/>
<ellipse cx="273.95" cy="406.38" rx="1.1" ry="2.3"/>
</g>
<ellipse cx="270.2" cy="317.3" rx="1.2" ry="2.2" fill="#000"/>
</g>
<rect x="250.5" y="310.3" width="40.1" height="149.1" fill="none" stroke="#8a8a8a" stroke-width="0.8"/>
<line x1="270.2" y1="459.4" x2="270.2" y2="462.4" stroke="#333" stroke-width="1.1"/>
<rect x="292.8" y="310.3" width="39.9" height="149.1" fill="#ffffff" stroke="none" stroke-width="1"/>
<line x1="292.8" y1="443.49" x2="332.7" y2="443.49" stroke="#f0f0f0" stroke-width="0.9"/>
<line x1="292.8" y1="415.06" x2="332.7" y2="415.06" stroke="#f0f0f0" stroke-width="0.9"/>
<line x1="292.8" y1="386.64" x2="332.7" y2="386.64" stroke="#f0f0f0" stroke-width="0.9"/>
<line x1="292.8" y1="358.21" x2="332.7" y2="358.21" stroke="#f0f0f0" stroke-width="0.9"/>
<line x1="292.8" y1="329.79" x2="332.7" y2="329.79" stroke="#f0f0f0" stroke-width="0.9"/>
<line x1="292.8" y1="457.7" x2="332.7" y2="457.7" stroke="#e7e7e7" stroke-width="1.15"/>
<line x1="292.8" y1="429.27" x2="332.7" y2="429.27" stroke="#e7e7e7" stroke-width="1.15"/>
<line x1="292.8" y1="400.85" x2="332.7" y2="400.85" stroke="#e7e7e7" stroke-width="1.15"/>
<line x1="292.8" y1="372.43" x2="332.7" y2="372.43" stroke="#e7e7e7" stroke-width="1.15"/>
<line x1="292.8" y1="344" x2="332.7" y2="344" stroke="#e7e7e7" stroke-width="1.15"/>
<line x1="292.8" y1="315.57" x2="332.7" y2="315.57" stroke="#e7e7e7" stroke-width="1.15"/>
<line x1="312.8" y1="310.3" x2="312.8" y2="459.4" stroke="#e7e7e7" stroke-width="1.15"/>
<rect x="292.8" y="295.4" width="39.9" height="14.9" fill="#dadada" stroke="#3d3d3d" stroke-width="0.9"/>
<text x="311.75" y="307.35" font-size="11" text-anchor="middle" fill="#111" stroke="#111" stroke-width="0.24">UST</text>
<clipPath id="clipCGU"><rect x="292.8" y="310.3" width="39.9" height="148.5"/></clipPath>
<g clip-path="url(#clipCGU)">
<line x1="312.8" y1="369.4" x2="312.8" y2="414.5" stroke="#111" stroke-width="1.6"/>
<line x1="312.8" y1="446.2" x2="312.8" y2="453.6" stroke="#111" stroke-width="1.6"/>
<rect x="300.1" y="414.5" width="25.4" height="31.7" fill="#ffffff" stroke="#111" stroke-width="1.6"/>
<line x1="300.1" y1="430.8" x2="325.5" y2="430.8" stroke="#000" stroke-width="2.5"/>
<g fill="#F8766D" fill-opacity="0.36" stroke="#F8766D" stroke-opacity="0.45" stroke-width="0.7">
<ellipse cx="317.1" cy="355.8" rx="1.1" ry="2.3"/>
<ellipse cx="317.1" cy="358" rx="1.1" ry="2.3"/>
<ellipse cx="314.4" cy="397.2" rx="1.1" ry="2.3"/>
<ellipse cx="315.6" cy="402.3" rx="1.1" ry="2.3"/>
<ellipse cx="316.1" cy="408.4" rx="1.1" ry="2.3"/>
<ellipse cx="316.66" cy="421.27" rx="1.1" ry="2.3"/>
<ellipse cx="314.14" cy="420.81" rx="1.1" ry="2.3"/>
<ellipse cx="305.52" cy="449.11" rx="1.1" ry="2.3"/>
<ellipse cx="308.43" cy="424.19" rx="1.1" ry="2.3"/>
<ellipse cx="319.25" cy="449.15" rx="1.1" ry="2.3"/>
<ellipse cx="309.55" cy="452.54" rx="1.1" ry="2.3"/>
<ellipse cx="313.05" cy="441.76" rx="1.1" ry="2.3"/>
<ellipse cx="308.37" cy="451.76" rx="1.1" ry="2.3"/>
<ellipse cx="315.17" cy="452.73" rx="1.1" ry="2.3"/>
<ellipse cx="318.01" cy="427.35" rx="1.1" ry="2.3"/>
<ellipse cx="310.56" cy="422.31" rx="1.1" ry="2.3"/>
<ellipse cx="307.54" cy="418.48" rx="1.1" ry="2.3"/>
<ellipse cx="309.72" cy="438.92" rx="1.1" ry="2.3"/>
<ellipse cx="305.55" cy="441.76" rx="1.1" ry="2.3"/>
<ellipse cx="310.23" cy="427.78" rx="1.1" ry="2.3"/>
<ellipse cx="316.96" cy="434.27" rx="1.1" ry="2.3"/>
<ellipse cx="309.92" cy="434.29" rx="1.1" ry="2.3"/>
<ellipse cx="315.37" cy="418.17" rx="1.1" ry="2.3"/>
<ellipse cx="319.15" cy="416.87" rx="1.1" ry="2.3"/>
<ellipse cx="316" cy="448.11" rx="1.1" ry="2.3"/>
<ellipse cx="305.75" cy="445.93" rx="1.1" ry="2.3"/>
<ellipse cx="310.63" cy="437.98" rx="1.1" ry="2.3"/>
</g>
<g fill="#C77CFF" fill-opacity="0.36" stroke="#C77CFF" stroke-opacity="0.45" stroke-width="0.7">
<ellipse cx="309.3" cy="321" rx="1.1" ry="2.3"/>
<ellipse cx="311.8" cy="395.5" rx="1.1" ry="2.3"/>
<ellipse cx="307" cy="406.6" rx="1.1" ry="2.3"/>
<ellipse cx="308.2" cy="409.2" rx="1.1" ry="2.3"/>
<ellipse cx="305.63" cy="415.87" rx="1.1" ry="2.3"/>
<ellipse cx="308.03" cy="452.21" rx="1.1" ry="2.3"/>
<ellipse cx="308.25" cy="444.23" rx="1.1" ry="2.3"/>
<ellipse cx="318.52" cy="451.68" rx="1.1" ry="2.3"/>
<ellipse cx="310.32" cy="428.19" rx="1.1" ry="2.3"/>
<ellipse cx="312.85" cy="445.02" rx="1.1" ry="2.3"/>
<ellipse cx="307.01" cy="443.94" rx="1.1" ry="2.3"/>
<ellipse cx="316.66" cy="448.39" rx="1.1" ry="2.3"/>
<ellipse cx="306.01" cy="451.83" rx="1.1" ry="2.3"/>
<ellipse cx="306.78" cy="427.63" rx="1.1" ry="2.3"/>
</g>
<g fill="#7CAE00" fill-opacity="0.36" stroke="#7CAE00" stroke-opacity="0.45" stroke-width="0.7">
<ellipse cx="315.5" cy="357.4" rx="1.1" ry="2.3"/>
<ellipse cx="307.1" cy="369" rx="1.1" ry="2.3"/>
<ellipse cx="309.3" cy="381.9" rx="1.1" ry="2.3"/>
<ellipse cx="312.6" cy="379.5" rx="1.1" ry="2.3"/>
<ellipse cx="309.2" cy="381.7" rx="1.1" ry="2.3"/>
<ellipse cx="314.05" cy="447.74" rx="1.1" ry="2.3"/>
<ellipse cx="310.26" cy="448.06" rx="1.1" ry="2.3"/>
<ellipse cx="313.13" cy="416.25" rx="1.1" ry="2.3"/>
<ellipse cx="309.94" cy="409.23" rx="1.1" ry="2.3"/>
<ellipse cx="306.59" cy="407.74" rx="1.1" ry="2.3"/>
<ellipse cx="315.15" cy="451.83" rx="1.1" ry="2.3"/>
<ellipse cx="307.76" cy="402.52" rx="1.1" ry="2.3"/>
</g>
<g fill="#00BFC4" fill-opacity="0.36" stroke="#00BFC4" stroke-opacity="0.45" stroke-width="0.7">
<ellipse cx="315.1" cy="331.5" rx="1.1" ry="2.3"/>
<ellipse cx="315.2" cy="387.2" rx="1.1" ry="2.3"/>
<ellipse cx="319.31" cy="434.41" rx="1.1" ry="2.3"/>
<ellipse cx="311.18" cy="421.97" rx="1.1" ry="2.3"/>
<ellipse cx="313.82" cy="446.7" rx="1.1" ry="2.3"/>
<ellipse cx="311.88" cy="429.71" rx="1.1" ry="2.3"/>
<ellipse cx="306.28" cy="450.47" rx="1.1" ry="2.3"/>
<ellipse cx="305.96" cy="432.73" rx="1.1" ry="2.3"/>
<ellipse cx="317.24" cy="417.48" rx="1.1" ry="2.3"/>
<ellipse cx="315.74" cy="451.89" rx="1.1" ry="2.3"/>
<ellipse cx="314.33" cy="445.1" rx="1.1" ry="2.3"/>
</g>
<ellipse cx="312.6" cy="321" rx="1.2" ry="2.2" fill="#000"/>
<ellipse cx="312.6" cy="331.5" rx="1.2" ry="2.2" fill="#000"/>
<ellipse cx="312.6" cy="356" rx="1.2" ry="2.2" fill="#000"/>
<ellipse cx="312.6" cy="357.9" rx="1.2" ry="2.2" fill="#000"/>
</g>
<rect x="292.8" y="310.3" width="39.9" height="149.1" fill="none" stroke="#4a4a4a" stroke-width="0.9"/>
<line x1="312.8" y1="459.4" x2="312.8" y2="462.4" stroke="#333" stroke-width="1.1"/>
<text x="338" y="267.9" font-size="7.9" text-anchor="start" fill="#2a2a2a">D</text>
<text x="376.5" y="268.5" font-size="9.95" text-anchor="start" fill="#111" stroke="#111" stroke-width="0.22">i. By FREQUENCY</text>
<text x="592.1" y="268.6" font-size="10" text-anchor="start" fill="#111" stroke="#111" stroke-width="0.22">ii. By GROUP</text>
<line x1="397.3" y1="288.2" x2="503.2" y2="288.2" stroke="#050505" stroke-width="1.45"/>
<text x="397.6" y="289.6" font-size="15.5" fill="#1a1a1a">*</text>
<line x1="422.2" y1="283.6" x2="524.4" y2="283.6" stroke="#5e5e5e" stroke-width="1.45"/>
<text x="423.8" y="285.6" font-size="15.5" fill="#1a1a1a">**</text>
<line x1="618.3" y1="286.4" x2="667.7" y2="286.4" stroke="#050505" stroke-width="1.45"/>
<text x="636.1" y="288.8" font-size="15.5" fill="#1a1a1a">***</text>
<rect x="385.5" y="310.3" width="98.5" height="149.9" fill="#cccccc" stroke="none" stroke-width="1"/>
<line x1="385.5" y1="446.2" x2="484" y2="446.2" stroke="#e0e0e0" stroke-width="0.9"/>
<line x1="385.5" y1="406.4" x2="484" y2="406.4" stroke="#e0e0e0" stroke-width="0.9"/>
<line x1="385.5" y1="366.6" x2="484" y2="366.6" stroke="#e0e0e0" stroke-width="0.9"/>
<line x1="385.5" y1="326.8" x2="484" y2="326.8" stroke="#e0e0e0" stroke-width="0.9"/>
<line x1="385.5" y1="426.3" x2="484" y2="426.3" stroke="#f0f0f0" stroke-width="1.15"/>
<line x1="385.5" y1="386.5" x2="484" y2="386.5" stroke="#f0f0f0" stroke-width="1.15"/>
<line x1="385.5" y1="346.7" x2="484" y2="346.7" stroke="#f0f0f0" stroke-width="1.15"/>
<line x1="399.4" y1="310.3" x2="399.4" y2="460.2" stroke="#f0f0f0" stroke-width="1.15"/>
<line x1="423.8" y1="310.3" x2="423.8" y2="460.2" stroke="#f0f0f0" stroke-width="1.15"/>
<line x1="446.4" y1="310.3" x2="446.4" y2="460.2" stroke="#f0f0f0" stroke-width="1.15"/>
<line x1="469.8" y1="310.3" x2="469.8" y2="460.2" stroke="#f0f0f0" stroke-width="1.15"/>
<rect x="385.5" y="294.8" width="98.5" height="15.5" fill="#656565" stroke="#3d3d3d" stroke-width="0.9"/>
<text x="437.85" y="306.15" font-size="11" text-anchor="middle" fill="#111" stroke="#111" stroke-width="0.24">NIT</text>
<clipPath id="clipDN"><rect x="385.5" y="310.3" width="98.5" height="149.9"/></clipPath>
<g clip-path="url(#clipDN)">
<line x1="399.4" y1="323.3" x2="399.4" y2="350.52" stroke="#111" stroke-width="1.6"/>
<line x1="399.4" y1="386.02" x2="399.4" y2="434.26" stroke="#111" stroke-width="1.6"/>
<rect x="390.3" y="350.52" width="18.2" height="35.5" fill="#ffffff" stroke="#111" stroke-width="1.6"/>
<line x1="390.3" y1="354.5" x2="408.5" y2="354.5" stroke="#000" stroke-width="2.5"/>
<line x1="423.8" y1="323.3" x2="423.8" y2="354.82" stroke="#111" stroke-width="1.6"/>
<line x1="423.8" y1="390.48" x2="423.8" y2="418.34" stroke="#111" stroke-width="1.6"/>
<rect x="414.7" y="354.82" width="18.2" height="35.66" fill="#ffffff" stroke="#111" stroke-width="1.6"/>
<line x1="414.7" y1="378.38" x2="432.9" y2="378.38" stroke="#000" stroke-width="2.5"/>
<ellipse cx="423.8" cy="450.98" rx="2.15" ry="2.15" fill="#000"/>
<line x1="446.4" y1="386.02" x2="446.4" y2="450.98" stroke="#111" stroke-width="1.6"/>
<rect x="437.3" y="322.5" width="18.2" height="63.52" fill="#ffffff" stroke="#111" stroke-width="1.6"/>
<line x1="437.3" y1="354.82" x2="455.5" y2="354.82" stroke="#000" stroke-width="2.5"/>
<line x1="469.8" y1="323.3" x2="469.8" y2="354.82" stroke="#111" stroke-width="1.6"/>
<line x1="469.8" y1="386.02" x2="469.8" y2="418.34" stroke="#111" stroke-width="1.6"/>
<rect x="460.7" y="354.82" width="18.2" height="31.2" fill="#ffffff" stroke="#111" stroke-width="1.6"/>
<line x1="460.7" y1="378.86" x2="478.9" y2="378.86" stroke="#000" stroke-width="2.5"/>
<ellipse cx="469.8" cy="450.98" rx="2.15" ry="2.15" fill="#000"/>
<g fill="#F8766D" fill-opacity="0.31" stroke="#F8766D" stroke-opacity="0.52" stroke-width="0.7">
<circle cx="397.2" cy="317.5" r="2.6"/>
<circle cx="397.2" cy="320.6" r="2.6"/>
<circle cx="396.4" cy="327.7" r="2.6"/>
<circle cx="396.4" cy="340.3" r="2.6"/>
<circle cx="395.6" cy="349" r="2.6"/>
<circle cx="396.4" cy="352.9" r="2.6"/>
<circle cx="401.1" cy="352.1" r="2.6"/>
<circle cx="399.5" cy="360" r="2.6"/>
<circle cx="401.9" cy="359.2" r="2.6"/>
<circle cx="400.3" cy="382.1" r="2.6"/>
<circle cx="403.5" cy="382.1" r="2.6"/>
<circle cx="403.5" cy="390" r="2.6"/>
<circle cx="403.2" cy="397.4" r="2.6"/>
<circle cx="400.6" cy="404.2" r="2.6"/>
<circle cx="395.3" cy="439.9" r="2.6"/>
</g>
<g fill="#C77CFF" fill-opacity="0.31" stroke="#C77CFF" stroke-opacity="0.52" stroke-width="0.7">
<circle cx="424.8" cy="316.2" r="2.6"/>
<circle cx="421.1" cy="319.3" r="2.6"/>
<circle cx="427.6" cy="327.7" r="2.6"/>
<circle cx="420.8" cy="334" r="2.6"/>
<circle cx="419.6" cy="357.2" r="2.6"/>
<circle cx="420.8" cy="359.7" r="2.6"/>
<circle cx="422.4" cy="366.6" r="2.6"/>
<circle cx="427.9" cy="367.1" r="2.6"/>
<circle cx="425.9" cy="372.6" r="2.6"/>
<circle cx="427.6" cy="375.8" r="2.6"/>
<circle cx="421.6" cy="382.1" r="2.6"/>
<circle cx="424.3" cy="382.9" r="2.6"/>
<circle cx="421.3" cy="404.5" r="2.6"/>
<circle cx="419.2" cy="419.5" r="2.6"/>
<circle cx="421.3" cy="446.2" r="2.6"/>
<circle cx="425.9" cy="452.5" r="2.6"/>
</g>
<g fill="#7CAE00" fill-opacity="0.31" stroke="#7CAE00" stroke-opacity="0.52" stroke-width="0.7">
<circle cx="446" cy="317.1" r="2.6"/>
<circle cx="443.7" cy="319.3" r="2.6"/>
<circle cx="446.8" cy="319.3" r="2.6"/>
<circle cx="450.8" cy="320.6" r="2.6"/>
<circle cx="445.2" cy="325" r="2.6"/>
<circle cx="444.9" cy="337.2" r="2.6"/>
<circle cx="447.3" cy="337.2" r="2.6"/>
<circle cx="449.2" cy="356.1" r="2.6"/>
<circle cx="444.9" cy="360" r="2.6"/>
<circle cx="445.2" cy="382.9" r="2.6"/>
<circle cx="447" cy="382.9" r="2.6"/>
<circle cx="450.3" cy="413.6" r="2.6"/>
<circle cx="450" cy="432.1" r="2.6"/>
<circle cx="442.4" cy="453.3" r="2.6"/>
</g>
<g fill="#00BFC4" fill-opacity="0.31" stroke="#00BFC4" stroke-opacity="0.52" stroke-width="0.7">
<circle cx="469.4" cy="318.2" r="2.6"/>
<circle cx="465.7" cy="323.8" r="2.6"/>
<circle cx="473.1" cy="326.1" r="2.6"/>
<circle cx="468.9" cy="349" r="2.6"/>
<circle cx="466.5" cy="356.1" r="2.6"/>
<circle cx="468.9" cy="355.3" r="2.6"/>
<circle cx="465.7" cy="358.4" r="2.6"/>
<circle cx="468.9" cy="365.5" r="2.6"/>
<circle cx="471.2" cy="366.3" r="2.6"/>
<circle cx="468.1" cy="368.7" r="2.6"/>
<circle cx="469.4" cy="376.5" r="2.6"/>
<circle cx="465.7" cy="381.3" r="2.6"/>
<circle cx="468.9" cy="382.1" r="2.6"/>
<circle cx="472.8" cy="381.3" r="2.6"/>
<circle cx="466.5" cy="390" r="2.6"/>
<circle cx="473.6" cy="389.5" r="2.6"/>
<circle cx="472.8" cy="396.6" r="2.6"/>
<circle cx="466.2" cy="412.7" r="2.6"/>
<circle cx="465.7" cy="421.3" r="2.6"/>
<circle cx="466.5" cy="452.1" r="2.6"/>
</g>
</g>
<rect x="385.5" y="310.3" width="98.5" height="149.9" fill="none" stroke="#8a8a8a" stroke-width="0.8"/>
<line x1="399.4" y1="460.2" x2="399.4" y2="463.4" stroke="#333" stroke-width="1.1"/>
<text x="399.4" y="475" font-size="10.2" text-anchor="middle" fill="#1a1a1a" stroke="#1a1a1a" stroke-width="0.22">12</text>
<line x1="423.8" y1="460.2" x2="423.8" y2="463.4" stroke="#333" stroke-width="1.1"/>
<text x="423.8" y="475" font-size="10.2" text-anchor="middle" fill="#1a1a1a" stroke="#1a1a1a" stroke-width="0.22">6</text>
<line x1="446.4" y1="460.2" x2="446.4" y2="463.4" stroke="#333" stroke-width="1.1"/>
<text x="446.4" y="475" font-size="10.2" text-anchor="middle" fill="#1a1a1a" stroke="#1a1a1a" stroke-width="0.22">1</text>
<line x1="469.8" y1="460.2" x2="469.8" y2="463.4" stroke="#333" stroke-width="1.1"/>
<text x="469.8" y="475" font-size="10.2" text-anchor="middle" fill="#1a1a1a" stroke="#1a1a1a" stroke-width="0.22">1</text>
<rect x="490.2" y="310.3" width="97.5" height="149.9" fill="#ffffff" stroke="none" stroke-width="1"/>
<line x1="490.2" y1="446.2" x2="587.7" y2="446.2" stroke="#f0f0f0" stroke-width="0.9"/>
<line x1="490.2" y1="406.4" x2="587.7" y2="406.4" stroke="#f0f0f0" stroke-width="0.9"/>
<line x1="490.2" y1="366.6" x2="587.7" y2="366.6" stroke="#f0f0f0" stroke-width="0.9"/>
<line x1="490.2" y1="326.8" x2="587.7" y2="326.8" stroke="#f0f0f0" stroke-width="0.9"/>
<line x1="490.2" y1="426.3" x2="587.7" y2="426.3" stroke="#e7e7e7" stroke-width="1.15"/>
<line x1="490.2" y1="386.5" x2="587.7" y2="386.5" stroke="#e7e7e7" stroke-width="1.15"/>
<line x1="490.2" y1="346.7" x2="587.7" y2="346.7" stroke="#e7e7e7" stroke-width="1.15"/>
<line x1="503.7" y1="310.3" x2="503.7" y2="460.2" stroke="#e7e7e7" stroke-width="1.15"/>
<line x1="526.8" y1="310.3" x2="526.8" y2="460.2" stroke="#e7e7e7" stroke-width="1.15"/>
<line x1="551" y1="310.3" x2="551" y2="460.2" stroke="#e7e7e7" stroke-width="1.15"/>
<line x1="574.4" y1="310.3" x2="574.4" y2="460.2" stroke="#e7e7e7" stroke-width="1.15"/>
<rect x="490.2" y="294.8" width="97.5" height="15.5" fill="#dadada" stroke="#3d3d3d" stroke-width="0.9"/>
<text x="539.75" y="306.15" font-size="11" text-anchor="middle" fill="#111" stroke="#111" stroke-width="0.24">UST</text>
<clipPath id="clipDU"><rect x="490.2" y="310.3" width="97.5" height="149.9"/></clipPath>
<g clip-path="url(#clipDU)">
<line x1="503.7" y1="354.82" x2="503.7" y2="386.5" stroke="#111" stroke-width="1.6"/>
<rect x="494.6" y="322.66" width="18.2" height="32.16" fill="#ffffff" stroke="#111" stroke-width="1.6"/>
<line x1="494.6" y1="338.42" x2="512.8" y2="338.42" stroke="#000" stroke-width="2.5"/>
<line x1="526.8" y1="378.86" x2="526.8" y2="402.9" stroke="#111" stroke-width="1.6"/>
<rect x="517.7" y="322.66" width="18.2" height="56.2" fill="#ffffff" stroke="#111" stroke-width="1.6"/>
<line x1="517.7" y1="354.82" x2="535.9" y2="354.82" stroke="#000" stroke-width="2.5"/>
<line x1="551" y1="322.66" x2="551" y2="326.64" stroke="#111" stroke-width="1.6"/>
<line x1="551" y1="354.82" x2="551" y2="386.5" stroke="#111" stroke-width="1.6"/>
<rect x="541.9" y="326.64" width="18.2" height="28.18" fill="#ffffff" stroke="#111" stroke-width="1.6"/>
<line x1="541.9" y1="354.82" x2="560.1" y2="354.82" stroke="#000" stroke-width="2.5"/>
<ellipse cx="551" cy="418.66" rx="2.15" ry="2.15" fill="#000"/>
<line x1="574.4" y1="322.66" x2="574.4" y2="330.78" stroke="#111" stroke-width="1.6"/>
<line x1="574.4" y1="378.86" x2="574.4" y2="402.42" stroke="#111" stroke-width="1.6"/>
<rect x="565.3" y="330.78" width="18.2" height="48.08" fill="#ffffff" stroke="#111" stroke-width="1.6"/>
<line x1="565.3" y1="371.06" x2="583.5" y2="371.06" stroke="#000" stroke-width="2.5"/>
<g fill="#F8766D" fill-opacity="0.31" stroke="#F8766D" stroke-opacity="0.52" stroke-width="0.7">
<circle cx="502" cy="317.5" r="2.6"/>
<circle cx="506.7" cy="316.7" r="2.6"/>
<circle cx="504.3" cy="319.8" r="2.6"/>
<circle cx="508.3" cy="319.8" r="2.6"/>
<circle cx="500.4" cy="322.2" r="2.6"/>
<circle cx="503.5" cy="323" r="2.6"/>
<circle cx="506.7" cy="323" r="2.6"/>
<circle cx="499.6" cy="326.9" r="2.6"/>
<circle cx="502.8" cy="327.7" r="2.6"/>
<circle cx="505.9" cy="326.1" r="2.6"/>
<circle cx="500.9" cy="333.2" r="2.6"/>
<circle cx="507.5" cy="332.4" r="2.6"/>
<circle cx="507.2" cy="341.1" r="2.6"/>
<circle cx="505.1" cy="345" r="2.6"/>
<circle cx="507.5" cy="344.2" r="2.6"/>
<circle cx="500.9" cy="349.3" r="2.6"/>
<circle cx="505.6" cy="349.8" r="2.6"/>
<circle cx="499.6" cy="356.8" r="2.6"/>
<circle cx="502.8" cy="358.4" r="2.6"/>
<circle cx="505.9" cy="356.1" r="2.6"/>
<circle cx="500.4" cy="366.3" r="2.6"/>
<circle cx="504.3" cy="368.7" r="2.6"/>
<circle cx="508.3" cy="373.4" r="2.6"/>
<circle cx="501.2" cy="382.1" r="2.6"/>
<circle cx="507.5" cy="382.9" r="2.6"/>
<circle cx="502" cy="385.6" r="2.6"/>
<circle cx="507.5" cy="384" r="2.6"/>
<circle cx="503.5" cy="392.7" r="2.6"/>
</g>
<g fill="#C77CFF" fill-opacity="0.31" stroke="#C77CFF" stroke-opacity="0.52" stroke-width="0.7">
<circle cx="526.4" cy="317.8" r="2.6"/>
<circle cx="529.5" cy="317.5" r="2.6"/>
<circle cx="528.3" cy="320.6" r="2.6"/>
<circle cx="524.3" cy="324.5" r="2.6"/>
<circle cx="527.2" cy="325.3" r="2.6"/>
<circle cx="530.3" cy="324.5" r="2.6"/>
<circle cx="525.6" cy="327.7" r="2.6"/>
<circle cx="528.3" cy="328.5" r="2.6"/>
<circle cx="528.8" cy="341.4" r="2.6"/>
<circle cx="530.3" cy="349" r="2.6"/>
<circle cx="526.4" cy="352.1" r="2.6"/>
<circle cx="524.8" cy="355.3" r="2.6"/>
<circle cx="528.3" cy="359.2" r="2.6"/>
<circle cx="526.7" cy="375" r="2.6"/>
<circle cx="529.5" cy="383.6" r="2.6"/>
<circle cx="529.9" cy="385.3" r="2.6"/>
<circle cx="531.4" cy="388.4" r="2.6"/>
<circle cx="523.2" cy="390" r="2.6"/>
<circle cx="524.8" cy="397.4" r="2.6"/>
<circle cx="528.4" cy="408.7" r="2.6"/>
</g>
<g fill="#7CAE00" fill-opacity="0.31" stroke="#7CAE00" stroke-opacity="0.52" stroke-width="0.7">
<circle cx="549.6" cy="318.2" r="2.6"/>
<circle cx="554.8" cy="319" r="2.6"/>
<circle cx="546.9" cy="323.4" r="2.6"/>
<circle cx="555.2" cy="337.2" r="2.6"/>
<circle cx="549.2" cy="341.1" r="2.6"/>
<circle cx="550" cy="349.3" r="2.6"/>
<circle cx="554.4" cy="350.2" r="2.6"/>
<circle cx="553.2" cy="359.2" r="2.6"/>
<circle cx="548" cy="370.2" r="2.6"/>
<circle cx="553.2" cy="382.1" r="2.6"/>
<circle cx="551.3" cy="415.5" r="2.6"/>
</g>
<g fill="#00BFC4" fill-opacity="0.31" stroke="#00BFC4" stroke-opacity="0.52" stroke-width="0.7">
<circle cx="577.1" cy="319.8" r="2.6"/>
<circle cx="571" cy="325" r="2.6"/>
<circle cx="574.5" cy="327.7" r="2.6"/>
<circle cx="573.7" cy="332.4" r="2.6"/>
<circle cx="569.7" cy="355.3" r="2.6"/>
<circle cx="573.7" cy="360" r="2.6"/>
<circle cx="576" cy="363.9" r="2.6"/>
<circle cx="576.8" cy="371" r="2.6"/>
<circle cx="572.1" cy="375" r="2.6"/>
<circle cx="574.5" cy="375.8" r="2.6"/>
<circle cx="570.5" cy="381.3" r="2.6"/>
<circle cx="569.7" cy="389.5" r="2.6"/>
<circle cx="573.4" cy="387.5" r="2.6"/>
<circle cx="574.5" cy="402.4" r="2.6"/>
</g>
</g>
<rect x="490.2" y="310.3" width="97.5" height="149.9" fill="none" stroke="#4a4a4a" stroke-width="0.9"/>
<line x1="503.7" y1="460.2" x2="503.7" y2="463.4" stroke="#333" stroke-width="1.1"/>
<text x="503.7" y="475" font-size="10.2" text-anchor="middle" fill="#1a1a1a" stroke="#1a1a1a" stroke-width="0.22">12</text>
<line x1="526.8" y1="460.2" x2="526.8" y2="463.4" stroke="#333" stroke-width="1.1"/>
<text x="526.8" y="475" font-size="10.2" text-anchor="middle" fill="#1a1a1a" stroke="#1a1a1a" stroke-width="0.22">6</text>
<line x1="551" y1="460.2" x2="551" y2="463.4" stroke="#333" stroke-width="1.1"/>
<text x="551" y="475" font-size="10.2" text-anchor="middle" fill="#1a1a1a" stroke="#1a1a1a" stroke-width="0.22">1</text>
<line x1="574.4" y1="460.2" x2="574.4" y2="463.4" stroke="#333" stroke-width="1.1"/>
<text x="574.4" y="475" font-size="10.2" text-anchor="middle" fill="#1a1a1a" stroke="#1a1a1a" stroke-width="0.22">1</text>
<text x="441.2" y="491.7" font-size="9.8" text-anchor="middle" fill="#111" stroke="#111" stroke-width="0.22">FREQUENCY</text>
<text x="543.2" y="491.7" font-size="9.8" text-anchor="middle" fill="#111" stroke="#111" stroke-width="0.22">FREQUENCY</text>
<line x1="382.9" y1="426.3" x2="385.5" y2="426.3" stroke="#333" stroke-width="0.9"/>
<text x="379.6" y="429.6" font-size="10.2" text-anchor="end" fill="#1a1a1a" stroke="#1a1a1a" stroke-width="0.22">2.5</text>
<line x1="602.6" y1="426.3" x2="604.9" y2="426.3" stroke="#333" stroke-width="0.9"/>
<line x1="382.9" y1="386.5" x2="385.5" y2="386.5" stroke="#333" stroke-width="0.9"/>
<text x="379.6" y="389.8" font-size="10.2" text-anchor="end" fill="#1a1a1a" stroke="#1a1a1a" stroke-width="0.22">5.0</text>
<line x1="602.6" y1="386.5" x2="604.9" y2="386.5" stroke="#333" stroke-width="0.9"/>
<line x1="382.9" y1="346.7" x2="385.5" y2="346.7" stroke="#333" stroke-width="0.9"/>
<text x="379.6" y="350" font-size="10.2" text-anchor="end" fill="#1a1a1a" stroke="#1a1a1a" stroke-width="0.22">7.5</text>
<line x1="602.6" y1="346.7" x2="604.9" y2="346.7" stroke="#333" stroke-width="0.9"/>
<text x="356.8" y="377.5" font-size="9.8" text-anchor="middle" fill="#111" stroke="#111" stroke-width="0.22" transform="rotate(-90 356.8 377.5)">CONFIDENCE</text>
<rect x="604.9" y="310.3" width="38.6" height="151.3" fill="#cccccc" stroke="none" stroke-width="1"/>
<line x1="604.9" y1="446.2" x2="643.5" y2="446.2" stroke="#e0e0e0" stroke-width="0.9"/>
<line x1="604.9" y1="406.4" x2="643.5" y2="406.4" stroke="#e0e0e0" stroke-width="0.9"/>
<line x1="604.9" y1="366.6" x2="643.5" y2="366.6" stroke="#e0e0e0" stroke-width="0.9"/>
<line x1="604.9" y1="326.8" x2="643.5" y2="326.8" stroke="#e0e0e0" stroke-width="0.9"/>
<line x1="604.9" y1="426.3" x2="643.5" y2="426.3" stroke="#f0f0f0" stroke-width="1.15"/>
<line x1="604.9" y1="386.5" x2="643.5" y2="386.5" stroke="#f0f0f0" stroke-width="1.15"/>
<line x1="604.9" y1="346.7" x2="643.5" y2="346.7" stroke="#f0f0f0" stroke-width="1.15"/>
<line x1="624.3" y1="310.3" x2="624.3" y2="461.6" stroke="#f0f0f0" stroke-width="1.15"/>
<rect x="604.9" y="294.8" width="38.6" height="15.5" fill="#656565" stroke="#3d3d3d" stroke-width="0.9"/>
<text x="621" y="306.15" font-size="10.8" text-anchor="middle" fill="#111" stroke="#111" stroke-width="0.24">NIT</text>
<clipPath id="clipDGN"><rect x="604.9" y="310.3" width="38.6" height="151.3"/></clipPath>
<g clip-path="url(#clipDGN)">
<line x1="624.3" y1="323.62" x2="624.3" y2="351.48" stroke="#111" stroke-width="1.6"/>
<line x1="624.3" y1="387.3" x2="624.3" y2="434.74" stroke="#111" stroke-width="1.6"/>
<rect x="612" y="351.48" width="24.6" height="35.82" fill="#ffffff" stroke="#111" stroke-width="1.6"/>
<line x1="612" y1="371.06" x2="636.6" y2="371.06" stroke="#000" stroke-width="2.5"/>
<g fill="#F8766D" fill-opacity="0.36" stroke="#F8766D" stroke-opacity="0.45" stroke-width="0.7">
<ellipse cx="622.6" cy="318.9" rx="1.1" ry="2.3"/>
<ellipse cx="618.7" cy="335.9" rx="1.1" ry="2.3"/>
<ellipse cx="620.3" cy="340" rx="1.1" ry="2.3"/>
<ellipse cx="619" cy="354.5" rx="1.1" ry="2.3"/>
<ellipse cx="627.9" cy="354.5" rx="1.1" ry="2.3"/>
<ellipse cx="623.1" cy="399.6" rx="1.1" ry="2.3"/>
<ellipse cx="618.1" cy="406.3" rx="1.1" ry="2.3"/>
<ellipse cx="624.3" cy="430.6" rx="1.1" ry="2.3"/>
<ellipse cx="630" cy="394.38" rx="1.1" ry="2.3"/>
<ellipse cx="623.32" cy="368.26" rx="1.1" ry="2.3"/>
<ellipse cx="623.87" cy="369.29" rx="1.1" ry="2.3"/>
</g>
<g fill="#C77CFF" fill-opacity="0.36" stroke="#C77CFF" stroke-opacity="0.45" stroke-width="0.7">
<ellipse cx="628.7" cy="321.4" rx="1.1" ry="2.3"/>
<ellipse cx="620.6" cy="357.7" rx="1.1" ry="2.3"/>
<ellipse cx="624.7" cy="365" rx="1.1" ry="2.3"/>
<ellipse cx="628.7" cy="376.3" rx="1.1" ry="2.3"/>
<ellipse cx="618.2" cy="383.6" rx="1.1" ry="2.3"/>
<ellipse cx="619" cy="388.7" rx="1.1" ry="2.3"/>
<ellipse cx="621.5" cy="390.4" rx="1.1" ry="2.3"/>
<ellipse cx="619.3" cy="397.1" rx="1.1" ry="2.3"/>
<ellipse cx="624.3" cy="416.4" rx="1.1" ry="2.3"/>
<ellipse cx="622.3" cy="444.9" rx="1.1" ry="2.3"/>
<ellipse cx="630.2" cy="449.9" rx="1.1" ry="2.3"/>
<ellipse cx="620.3" cy="454.1" rx="1.1" ry="2.3"/>
</g>
<g fill="#7CAE00" fill-opacity="0.36" stroke="#7CAE00" stroke-opacity="0.45" stroke-width="0.7">
<ellipse cx="627.6" cy="324.1" rx="1.1" ry="2.3"/>
<ellipse cx="618.2" cy="326.2" rx="1.1" ry="2.3"/>
<ellipse cx="630.3" cy="337.5" rx="1.1" ry="2.3"/>
<ellipse cx="627.9" cy="344.8" rx="1.1" ry="2.3"/>
<ellipse cx="622.6" cy="349.7" rx="1.1" ry="2.3"/>
<ellipse cx="624.7" cy="381.2" rx="1.1" ry="2.3"/>
<ellipse cx="619.5" cy="416.9" rx="1.1" ry="2.3"/>
<ellipse cx="628.5" cy="447" rx="1.1" ry="2.3"/>
</g>
<g fill="#00BFC4" fill-opacity="0.36" stroke="#00BFC4" stroke-opacity="0.45" stroke-width="0.7">
<ellipse cx="620.3" cy="319.7" rx="1.1" ry="2.3"/>
<ellipse cx="622.3" cy="327" rx="1.1" ry="2.3"/>
<ellipse cx="622.3" cy="359.4" rx="1.1" ry="2.3"/>
<ellipse cx="629.5" cy="358.1" rx="1.1" ry="2.3"/>
<ellipse cx="619.8" cy="368.3" rx="1.1" ry="2.3"/>
<ellipse cx="622.3" cy="374.7" rx="1.1" ry="2.3"/>
<ellipse cx="623.1" cy="382.8" rx="1.1" ry="2.3"/>
<ellipse cx="627.3" cy="390.4" rx="1.1" ry="2.3"/>
<ellipse cx="629.8" cy="407.1" rx="1.1" ry="2.3"/>
<ellipse cx="623.5" cy="423.9" rx="1.1" ry="2.3"/>
<ellipse cx="629.8" cy="454.4" rx="1.1" ry="2.3"/>
<ellipse cx="630.93" cy="369.33" rx="1.1" ry="2.3"/>
<ellipse cx="618.35" cy="354.66" rx="1.1" ry="2.3"/>
<ellipse cx="627.34" cy="399.64" rx="1.1" ry="2.3"/>
</g>
<ellipse cx="624.3" cy="450.66" rx="1.2" ry="2.2" fill="#000"/>
</g>
<rect x="604.9" y="310.3" width="38.6" height="151.3" fill="none" stroke="#8a8a8a" stroke-width="0.8"/>
<line x1="624.3" y1="461.6" x2="624.3" y2="464.6" stroke="#333" stroke-width="1.1"/>
<rect x="645.7" y="310.3" width="38.5" height="151.3" fill="#ffffff" stroke="none" stroke-width="1"/>
<line x1="645.7" y1="446.2" x2="684.2" y2="446.2" stroke="#f0f0f0" stroke-width="0.9"/>
<line x1="645.7" y1="406.4" x2="684.2" y2="406.4" stroke="#f0f0f0" stroke-width="0.9"/>
<line x1="645.7" y1="366.6" x2="684.2" y2="366.6" stroke="#f0f0f0" stroke-width="0.9"/>
<line x1="645.7" y1="326.8" x2="684.2" y2="326.8" stroke="#f0f0f0" stroke-width="0.9"/>
<line x1="645.7" y1="426.3" x2="684.2" y2="426.3" stroke="#e7e7e7" stroke-width="1.15"/>
<line x1="645.7" y1="386.5" x2="684.2" y2="386.5" stroke="#e7e7e7" stroke-width="1.15"/>
<line x1="645.7" y1="346.7" x2="684.2" y2="346.7" stroke="#e7e7e7" stroke-width="1.15"/>
<line x1="665" y1="310.3" x2="665" y2="461.6" stroke="#e7e7e7" stroke-width="1.15"/>
<rect x="645.7" y="294.8" width="38.5" height="15.5" fill="#dadada" stroke="#3d3d3d" stroke-width="0.9"/>
<text x="663.35" y="306.15" font-size="10.8" text-anchor="middle" fill="#111" stroke="#111" stroke-width="0.24">UST</text>
<clipPath id="clipDGU"><rect x="645.7" y="310.3" width="38.5" height="151.3"/></clipPath>
<g clip-path="url(#clipDGU)">
<line x1="665" y1="323.46" x2="665" y2="323.46" stroke="#111" stroke-width="1.6"/>
<line x1="665" y1="371.22" x2="665" y2="418.82" stroke="#111" stroke-width="1.6"/>
<rect x="652.7" y="323.46" width="24.6" height="47.76" fill="#ffffff" stroke="#111" stroke-width="1.6"/>
<line x1="652.7" y1="354.98" x2="677.3" y2="354.98" stroke="#000" stroke-width="2.5"/>
<g fill="#F8766D" fill-opacity="0.36" stroke="#F8766D" stroke-opacity="0.45" stroke-width="0.7">
<ellipse cx="665.9" cy="318.1" rx="1.1" ry="2.3"/>
<ellipse cx="669.2" cy="317.3" rx="1.1" ry="2.3"/>
<ellipse cx="667.9" cy="320.6" rx="1.1" ry="2.3"/>
<ellipse cx="663.5" cy="321.4" rx="1.1" ry="2.3"/>
<ellipse cx="659.4" cy="328.6" rx="1.1" ry="2.3"/>
<ellipse cx="665.9" cy="342.4" rx="1.1" ry="2.3"/>
<ellipse cx="670" cy="343.5" rx="1.1" ry="2.3"/>
<ellipse cx="664.3" cy="351.3" rx="1.1" ry="2.3"/>
<ellipse cx="667.5" cy="354.5" rx="1.1" ry="2.3"/>
<ellipse cx="665.1" cy="357.7" rx="1.1" ry="2.3"/>
<ellipse cx="667.9" cy="376.3" rx="1.1" ry="2.3"/>
<ellipse cx="671.6" cy="373.9" rx="1.1" ry="2.3"/>
<ellipse cx="658.7" cy="389" rx="1.1" ry="2.3"/>
<ellipse cx="671.2" cy="388.4" rx="1.1" ry="2.3"/>
<ellipse cx="660.31" cy="336.69" rx="1.1" ry="2.3"/>
<ellipse cx="666.89" cy="330.37" rx="1.1" ry="2.3"/>
<ellipse cx="661.02" cy="339.78" rx="1.1" ry="2.3"/>
<ellipse cx="669.31" cy="331.37" rx="1.1" ry="2.3"/>
<ellipse cx="665.07" cy="323.08" rx="1.1" ry="2.3"/>
<ellipse cx="658.04" cy="327.13" rx="1.1" ry="2.3"/>
<ellipse cx="666.2" cy="318.08" rx="1.1" ry="2.3"/>
<ellipse cx="669.11" cy="322.97" rx="1.1" ry="2.3"/>
<ellipse cx="661.26" cy="352.12" rx="1.1" ry="2.3"/>
<ellipse cx="671.97" cy="386.93" rx="1.1" ry="2.3"/>
<ellipse cx="670.25" cy="380.79" rx="1.1" ry="2.3"/>
</g>
<g fill="#C77CFF" fill-opacity="0.36" stroke="#C77CFF" stroke-opacity="0.45" stroke-width="0.7">
<ellipse cx="660.3" cy="327" rx="1.1" ry="2.3"/>
<ellipse cx="665.1" cy="327.8" rx="1.1" ry="2.3"/>
<ellipse cx="669.2" cy="328.6" rx="1.1" ry="2.3"/>
<ellipse cx="663.5" cy="340.3" rx="1.1" ry="2.3"/>
<ellipse cx="659.1" cy="351.3" rx="1.1" ry="2.3"/>
<ellipse cx="660.3" cy="354.5" rx="1.1" ry="2.3"/>
<ellipse cx="662.7" cy="356.1" rx="1.1" ry="2.3"/>
<ellipse cx="669.2" cy="358.6" rx="1.1" ry="2.3"/>
<ellipse cx="661.7" cy="390.7" rx="1.1" ry="2.3"/>
<ellipse cx="668.1" cy="392.4" rx="1.1" ry="2.3"/>
<ellipse cx="664.2" cy="398.4" rx="1.1" ry="2.3"/>
<ellipse cx="670.9" cy="402.4" rx="1.1" ry="2.3"/>
<ellipse cx="658.48" cy="327.21" rx="1.1" ry="2.3"/>
<ellipse cx="664.97" cy="321.24" rx="1.1" ry="2.3"/>
<ellipse cx="671.33" cy="328.32" rx="1.1" ry="2.3"/>
<ellipse cx="660.17" cy="340.89" rx="1.1" ry="2.3"/>
<ellipse cx="659.75" cy="343.98" rx="1.1" ry="2.3"/>
<ellipse cx="664.34" cy="374.84" rx="1.1" ry="2.3"/>
<ellipse cx="662.8" cy="371.81" rx="1.1" ry="2.3"/>
</g>
<g fill="#7CAE00" fill-opacity="0.36" stroke="#7CAE00" stroke-opacity="0.45" stroke-width="0.7">
<ellipse cx="659.1" cy="318.1" rx="1.1" ry="2.3"/>
<ellipse cx="668.7" cy="326.2" rx="1.1" ry="2.3"/>
<ellipse cx="661.9" cy="335.1" rx="1.1" ry="2.3"/>
<ellipse cx="659.4" cy="341.9" rx="1.1" ry="2.3"/>
<ellipse cx="670.3" cy="350" rx="1.1" ry="2.3"/>
<ellipse cx="670.9" cy="417.2" rx="1.1" ry="2.3"/>
<ellipse cx="660.62" cy="321.49" rx="1.1" ry="2.3"/>
<ellipse cx="670.12" cy="329.39" rx="1.1" ry="2.3"/>
<ellipse cx="668.92" cy="328.34" rx="1.1" ry="2.3"/>
</g>
<g fill="#00BFC4" fill-opacity="0.36" stroke="#00BFC4" stroke-opacity="0.45" stroke-width="0.7">
<ellipse cx="659.1" cy="367.1" rx="1.1" ry="2.3"/>
<ellipse cx="670" cy="366.6" rx="1.1" ry="2.3"/>
<ellipse cx="661.1" cy="375.5" rx="1.1" ry="2.3"/>
<ellipse cx="667.5" cy="382" rx="1.1" ry="2.3"/>
<ellipse cx="659.5" cy="385" rx="1.1" ry="2.3"/>
<ellipse cx="669.7" cy="383.7" rx="1.1" ry="2.3"/>
<ellipse cx="669.6" cy="406.3" rx="1.1" ry="2.3"/>
<ellipse cx="671.56" cy="356.29" rx="1.1" ry="2.3"/>
<ellipse cx="668.57" cy="351.7" rx="1.1" ry="2.3"/>
<ellipse cx="666.13" cy="350.54" rx="1.1" ry="2.3"/>
<ellipse cx="659.71" cy="379.05" rx="1.1" ry="2.3"/>
<ellipse cx="669.58" cy="368.04" rx="1.1" ry="2.3"/>
</g>
</g>
<rect x="645.7" y="310.3" width="38.5" height="151.3" fill="none" stroke="#4a4a4a" stroke-width="0.9"/>
<line x1="665" y1="461.6" x2="665" y2="464.6" stroke="#333" stroke-width="1.1"/>
</svg>
</body>
</html>
